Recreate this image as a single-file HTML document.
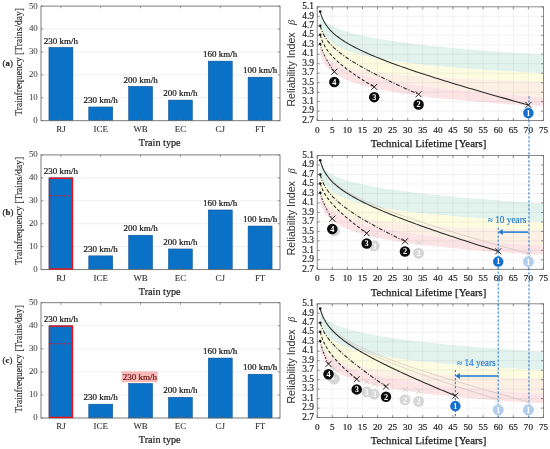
<!DOCTYPE html><html><head><meta charset="utf-8"><style>html,body{margin:0;padding:0;background:#fff;overflow:hidden}svg{display:block;-webkit-font-smoothing:antialiased;will-change:transform}</style></head><body><svg width="550" height="449" viewBox="0 0 550 449" font-family='"Liberation Serif", serif'><line x1="41.0" y1="97.78" x2="280.0" y2="97.78" stroke="#e8e8e8" stroke-width="0.7"/>
<line x1="41.0" y1="74.86" x2="280.0" y2="74.86" stroke="#e8e8e8" stroke-width="0.7"/>
<line x1="41.0" y1="51.94" x2="280.0" y2="51.94" stroke="#e8e8e8" stroke-width="0.7"/>
<line x1="41.0" y1="29.02" x2="280.0" y2="29.02" stroke="#e8e8e8" stroke-width="0.7"/>
<rect x="48.92" y="47.36" width="24.0" height="73.34" fill="#0a72c6" stroke="#0b4f8f" stroke-width="0.5"/>
<rect x="88.75" y="106.95" width="24.0" height="13.75" fill="#0a72c6" stroke="#0b4f8f" stroke-width="0.5"/>
<rect x="128.58" y="86.32" width="24.0" height="34.38" fill="#0a72c6" stroke="#0b4f8f" stroke-width="0.5"/>
<rect x="168.42" y="100.07" width="24.0" height="20.63" fill="#0a72c6" stroke="#0b4f8f" stroke-width="0.5"/>
<rect x="208.25" y="61.11" width="24.0" height="59.59" fill="#0a72c6" stroke="#0b4f8f" stroke-width="0.5"/>
<rect x="248.08" y="77.15" width="24.0" height="43.55" fill="#0a72c6" stroke="#0b4f8f" stroke-width="0.5"/>
<rect x="41.0" y="6.1" width="239.0" height="114.60" fill="none" stroke="#6e6e6e" stroke-width="0.9"/>
<line x1="41.0" y1="120.70" x2="43.2" y2="120.70" stroke="#6e6e6e" stroke-width="0.7"/>
<line x1="280.0" y1="120.70" x2="277.8" y2="120.70" stroke="#6e6e6e" stroke-width="0.7"/>
<text x="37.80" y="123.10" font-size="8.9" text-anchor="end" fill="#3c3c3c" stroke="#3c3c3c" stroke-width="0.04" >0</text>
<line x1="41.0" y1="97.78" x2="43.2" y2="97.78" stroke="#6e6e6e" stroke-width="0.7"/>
<line x1="280.0" y1="97.78" x2="277.8" y2="97.78" stroke="#6e6e6e" stroke-width="0.7"/>
<text x="37.80" y="100.18" font-size="8.9" text-anchor="end" fill="#3c3c3c" stroke="#3c3c3c" stroke-width="0.04" >10</text>
<line x1="41.0" y1="74.86" x2="43.2" y2="74.86" stroke="#6e6e6e" stroke-width="0.7"/>
<line x1="280.0" y1="74.86" x2="277.8" y2="74.86" stroke="#6e6e6e" stroke-width="0.7"/>
<text x="37.80" y="77.26" font-size="8.9" text-anchor="end" fill="#3c3c3c" stroke="#3c3c3c" stroke-width="0.04" >20</text>
<line x1="41.0" y1="51.94" x2="43.2" y2="51.94" stroke="#6e6e6e" stroke-width="0.7"/>
<line x1="280.0" y1="51.94" x2="277.8" y2="51.94" stroke="#6e6e6e" stroke-width="0.7"/>
<text x="37.80" y="54.34" font-size="8.9" text-anchor="end" fill="#3c3c3c" stroke="#3c3c3c" stroke-width="0.04" >30</text>
<line x1="41.0" y1="29.02" x2="43.2" y2="29.02" stroke="#6e6e6e" stroke-width="0.7"/>
<line x1="280.0" y1="29.02" x2="277.8" y2="29.02" stroke="#6e6e6e" stroke-width="0.7"/>
<text x="37.80" y="31.42" font-size="8.9" text-anchor="end" fill="#3c3c3c" stroke="#3c3c3c" stroke-width="0.04" >40</text>
<line x1="41.0" y1="6.10" x2="43.2" y2="6.10" stroke="#6e6e6e" stroke-width="0.7"/>
<line x1="280.0" y1="6.10" x2="277.8" y2="6.10" stroke="#6e6e6e" stroke-width="0.7"/>
<text x="37.80" y="8.50" font-size="8.9" text-anchor="end" fill="#3c3c3c" stroke="#3c3c3c" stroke-width="0.04" >50</text>
<line x1="60.92" y1="120.7" x2="60.92" y2="118.5" stroke="#6e6e6e" stroke-width="0.7"/>
<line x1="60.92" y1="6.1" x2="60.92" y2="8.3" stroke="#6e6e6e" stroke-width="0.7"/>
<text x="60.92" y="131.90" font-size="8.9" text-anchor="middle" fill="#2e2e2e" stroke="#2e2e2e" stroke-width="0.08" >RJ</text>
<line x1="100.75" y1="120.7" x2="100.75" y2="118.5" stroke="#6e6e6e" stroke-width="0.7"/>
<line x1="100.75" y1="6.1" x2="100.75" y2="8.3" stroke="#6e6e6e" stroke-width="0.7"/>
<text x="100.75" y="131.90" font-size="8.9" text-anchor="middle" fill="#2e2e2e" stroke="#2e2e2e" stroke-width="0.08" >ICE</text>
<line x1="140.58" y1="120.7" x2="140.58" y2="118.5" stroke="#6e6e6e" stroke-width="0.7"/>
<line x1="140.58" y1="6.1" x2="140.58" y2="8.3" stroke="#6e6e6e" stroke-width="0.7"/>
<text x="140.58" y="131.90" font-size="8.9" text-anchor="middle" fill="#2e2e2e" stroke="#2e2e2e" stroke-width="0.08" >WB</text>
<line x1="180.42" y1="120.7" x2="180.42" y2="118.5" stroke="#6e6e6e" stroke-width="0.7"/>
<line x1="180.42" y1="6.1" x2="180.42" y2="8.3" stroke="#6e6e6e" stroke-width="0.7"/>
<text x="180.42" y="131.90" font-size="8.9" text-anchor="middle" fill="#2e2e2e" stroke="#2e2e2e" stroke-width="0.08" >EC</text>
<line x1="220.25" y1="120.7" x2="220.25" y2="118.5" stroke="#6e6e6e" stroke-width="0.7"/>
<line x1="220.25" y1="6.1" x2="220.25" y2="8.3" stroke="#6e6e6e" stroke-width="0.7"/>
<text x="220.25" y="131.90" font-size="8.9" text-anchor="middle" fill="#2e2e2e" stroke="#2e2e2e" stroke-width="0.08" >CJ</text>
<line x1="260.08" y1="120.7" x2="260.08" y2="118.5" stroke="#6e6e6e" stroke-width="0.7"/>
<line x1="260.08" y1="6.1" x2="260.08" y2="8.3" stroke="#6e6e6e" stroke-width="0.7"/>
<text x="260.08" y="131.90" font-size="8.9" text-anchor="middle" fill="#2e2e2e" stroke="#2e2e2e" stroke-width="0.08" >FT</text>
<text x="60.92" y="43.56" font-size="9.0" text-anchor="middle" fill="#141414" stroke="#141414" stroke-width="0.2" >230 km/h</text>
<text x="100.75" y="103.15" font-size="9.0" text-anchor="middle" fill="#141414" stroke="#141414" stroke-width="0.2" >230 km/h</text>
<text x="140.58" y="82.52" font-size="9.0" text-anchor="middle" fill="#141414" stroke="#141414" stroke-width="0.2" >200 km/h</text>
<text x="180.42" y="96.27" font-size="9.0" text-anchor="middle" fill="#141414" stroke="#141414" stroke-width="0.2" >200 km/h</text>
<text x="220.25" y="57.31" font-size="9.0" text-anchor="middle" fill="#141414" stroke="#141414" stroke-width="0.2" >160 km/h</text>
<text x="260.08" y="73.35" font-size="9.0" text-anchor="middle" fill="#141414" stroke="#141414" stroke-width="0.2" >100 km/h</text>
<text x="159.70" y="145.60" font-size="10.2" text-anchor="middle" fill="#1e1e1e" stroke="#1e1e1e" stroke-width="0.22" >Train type</text>
<text transform="translate(22.4,61.90) rotate(-90)" font-size="9.55" text-anchor="middle" fill="#262626" stroke="#262626" stroke-width="0.1">Trainfrequency [Trains/day]</text>
<text x="2.6" y="66.00" font-size="8.8" fill="#262626" stroke="#262626" stroke-width="0.22">(<tspan font-weight="bold">a</tspan>)</text>
<line x1="41.0" y1="246.66" x2="280.0" y2="246.66" stroke="#e8e8e8" stroke-width="0.7"/>
<line x1="41.0" y1="223.72" x2="280.0" y2="223.72" stroke="#e8e8e8" stroke-width="0.7"/>
<line x1="41.0" y1="200.78" x2="280.0" y2="200.78" stroke="#e8e8e8" stroke-width="0.7"/>
<line x1="41.0" y1="177.84" x2="280.0" y2="177.84" stroke="#e8e8e8" stroke-width="0.7"/>
<rect x="48.92" y="177.84" width="24.0" height="91.76" fill="#0a72c6" stroke="#0b4f8f" stroke-width="0.5"/>
<rect x="88.75" y="255.84" width="24.0" height="13.76" fill="#0a72c6" stroke="#0b4f8f" stroke-width="0.5"/>
<rect x="128.58" y="235.19" width="24.0" height="34.41" fill="#0a72c6" stroke="#0b4f8f" stroke-width="0.5"/>
<rect x="168.42" y="248.95" width="24.0" height="20.65" fill="#0a72c6" stroke="#0b4f8f" stroke-width="0.5"/>
<rect x="208.25" y="209.96" width="24.0" height="59.64" fill="#0a72c6" stroke="#0b4f8f" stroke-width="0.5"/>
<rect x="248.08" y="226.01" width="24.0" height="43.59" fill="#0a72c6" stroke="#0b4f8f" stroke-width="0.5"/>
<rect x="41.0" y="154.9" width="239.0" height="114.70" fill="none" stroke="#6e6e6e" stroke-width="0.9"/>
<line x1="41.0" y1="269.60" x2="43.2" y2="269.60" stroke="#6e6e6e" stroke-width="0.7"/>
<line x1="280.0" y1="269.60" x2="277.8" y2="269.60" stroke="#6e6e6e" stroke-width="0.7"/>
<text x="37.80" y="272.00" font-size="8.9" text-anchor="end" fill="#3c3c3c" stroke="#3c3c3c" stroke-width="0.04" >0</text>
<line x1="41.0" y1="246.66" x2="43.2" y2="246.66" stroke="#6e6e6e" stroke-width="0.7"/>
<line x1="280.0" y1="246.66" x2="277.8" y2="246.66" stroke="#6e6e6e" stroke-width="0.7"/>
<text x="37.80" y="249.06" font-size="8.9" text-anchor="end" fill="#3c3c3c" stroke="#3c3c3c" stroke-width="0.04" >10</text>
<line x1="41.0" y1="223.72" x2="43.2" y2="223.72" stroke="#6e6e6e" stroke-width="0.7"/>
<line x1="280.0" y1="223.72" x2="277.8" y2="223.72" stroke="#6e6e6e" stroke-width="0.7"/>
<text x="37.80" y="226.12" font-size="8.9" text-anchor="end" fill="#3c3c3c" stroke="#3c3c3c" stroke-width="0.04" >20</text>
<line x1="41.0" y1="200.78" x2="43.2" y2="200.78" stroke="#6e6e6e" stroke-width="0.7"/>
<line x1="280.0" y1="200.78" x2="277.8" y2="200.78" stroke="#6e6e6e" stroke-width="0.7"/>
<text x="37.80" y="203.18" font-size="8.9" text-anchor="end" fill="#3c3c3c" stroke="#3c3c3c" stroke-width="0.04" >30</text>
<line x1="41.0" y1="177.84" x2="43.2" y2="177.84" stroke="#6e6e6e" stroke-width="0.7"/>
<line x1="280.0" y1="177.84" x2="277.8" y2="177.84" stroke="#6e6e6e" stroke-width="0.7"/>
<text x="37.80" y="180.24" font-size="8.9" text-anchor="end" fill="#3c3c3c" stroke="#3c3c3c" stroke-width="0.04" >40</text>
<line x1="41.0" y1="154.90" x2="43.2" y2="154.90" stroke="#6e6e6e" stroke-width="0.7"/>
<line x1="280.0" y1="154.90" x2="277.8" y2="154.90" stroke="#6e6e6e" stroke-width="0.7"/>
<text x="37.80" y="157.30" font-size="8.9" text-anchor="end" fill="#3c3c3c" stroke="#3c3c3c" stroke-width="0.04" >50</text>
<line x1="60.92" y1="269.6" x2="60.92" y2="267.40000000000003" stroke="#6e6e6e" stroke-width="0.7"/>
<line x1="60.92" y1="154.9" x2="60.92" y2="157.1" stroke="#6e6e6e" stroke-width="0.7"/>
<text x="60.92" y="280.80" font-size="8.9" text-anchor="middle" fill="#2e2e2e" stroke="#2e2e2e" stroke-width="0.08" >RJ</text>
<line x1="100.75" y1="269.6" x2="100.75" y2="267.40000000000003" stroke="#6e6e6e" stroke-width="0.7"/>
<line x1="100.75" y1="154.9" x2="100.75" y2="157.1" stroke="#6e6e6e" stroke-width="0.7"/>
<text x="100.75" y="280.80" font-size="8.9" text-anchor="middle" fill="#2e2e2e" stroke="#2e2e2e" stroke-width="0.08" >ICE</text>
<line x1="140.58" y1="269.6" x2="140.58" y2="267.40000000000003" stroke="#6e6e6e" stroke-width="0.7"/>
<line x1="140.58" y1="154.9" x2="140.58" y2="157.1" stroke="#6e6e6e" stroke-width="0.7"/>
<text x="140.58" y="280.80" font-size="8.9" text-anchor="middle" fill="#2e2e2e" stroke="#2e2e2e" stroke-width="0.08" >WB</text>
<line x1="180.42" y1="269.6" x2="180.42" y2="267.40000000000003" stroke="#6e6e6e" stroke-width="0.7"/>
<line x1="180.42" y1="154.9" x2="180.42" y2="157.1" stroke="#6e6e6e" stroke-width="0.7"/>
<text x="180.42" y="280.80" font-size="8.9" text-anchor="middle" fill="#2e2e2e" stroke="#2e2e2e" stroke-width="0.08" >EC</text>
<line x1="220.25" y1="269.6" x2="220.25" y2="267.40000000000003" stroke="#6e6e6e" stroke-width="0.7"/>
<line x1="220.25" y1="154.9" x2="220.25" y2="157.1" stroke="#6e6e6e" stroke-width="0.7"/>
<text x="220.25" y="280.80" font-size="8.9" text-anchor="middle" fill="#2e2e2e" stroke="#2e2e2e" stroke-width="0.08" >CJ</text>
<line x1="260.08" y1="269.6" x2="260.08" y2="267.40000000000003" stroke="#6e6e6e" stroke-width="0.7"/>
<line x1="260.08" y1="154.9" x2="260.08" y2="157.1" stroke="#6e6e6e" stroke-width="0.7"/>
<text x="260.08" y="280.80" font-size="8.9" text-anchor="middle" fill="#2e2e2e" stroke="#2e2e2e" stroke-width="0.08" >FT</text>
<rect x="49.52" y="178.24" width="22.8" height="90.76" fill="none" stroke="#ff0a0a" stroke-width="1.25"/>
<line x1="50.12" y1="195.73" x2="71.92" y2="195.73" stroke="#f51010" stroke-width="1.1" stroke-dasharray="2.1,2.3"/>
<text x="60.92" y="174.04" font-size="9.0" text-anchor="middle" fill="#141414" stroke="#141414" stroke-width="0.2" >230 km/h</text>
<text x="100.75" y="252.04" font-size="9.0" text-anchor="middle" fill="#141414" stroke="#141414" stroke-width="0.2" >230 km/h</text>
<text x="140.58" y="231.39" font-size="9.0" text-anchor="middle" fill="#141414" stroke="#141414" stroke-width="0.2" >200 km/h</text>
<text x="180.42" y="245.15" font-size="9.0" text-anchor="middle" fill="#141414" stroke="#141414" stroke-width="0.2" >200 km/h</text>
<text x="220.25" y="206.16" font-size="9.0" text-anchor="middle" fill="#141414" stroke="#141414" stroke-width="0.2" >160 km/h</text>
<text x="260.08" y="222.21" font-size="9.0" text-anchor="middle" fill="#141414" stroke="#141414" stroke-width="0.2" >100 km/h</text>
<text x="159.70" y="294.50" font-size="10.2" text-anchor="middle" fill="#1e1e1e" stroke="#1e1e1e" stroke-width="0.22" >Train type</text>
<text transform="translate(22.4,210.75) rotate(-90)" font-size="9.55" text-anchor="middle" fill="#262626" stroke="#262626" stroke-width="0.1">Trainfrequency [Trains/day]</text>
<text x="2.6" y="214.85" font-size="8.8" fill="#262626" stroke="#262626" stroke-width="0.22">(<tspan font-weight="bold">b</tspan>)</text>
<line x1="41.0" y1="394.94" x2="280.0" y2="394.94" stroke="#e8e8e8" stroke-width="0.7"/>
<line x1="41.0" y1="371.88" x2="280.0" y2="371.88" stroke="#e8e8e8" stroke-width="0.7"/>
<line x1="41.0" y1="348.82" x2="280.0" y2="348.82" stroke="#e8e8e8" stroke-width="0.7"/>
<line x1="41.0" y1="325.76" x2="280.0" y2="325.76" stroke="#e8e8e8" stroke-width="0.7"/>
<rect x="48.92" y="325.76" width="24.0" height="92.24" fill="#0a72c6" stroke="#0b4f8f" stroke-width="0.5"/>
<rect x="88.75" y="404.16" width="24.0" height="13.84" fill="#0a72c6" stroke="#0b4f8f" stroke-width="0.5"/>
<rect x="128.58" y="383.41" width="24.0" height="34.59" fill="#0a72c6" stroke="#0b4f8f" stroke-width="0.5"/>
<rect x="168.42" y="397.25" width="24.0" height="20.75" fill="#0a72c6" stroke="#0b4f8f" stroke-width="0.5"/>
<rect x="208.25" y="358.04" width="24.0" height="59.96" fill="#0a72c6" stroke="#0b4f8f" stroke-width="0.5"/>
<rect x="248.08" y="374.19" width="24.0" height="43.81" fill="#0a72c6" stroke="#0b4f8f" stroke-width="0.5"/>
<rect x="41.0" y="302.7" width="239.0" height="115.30" fill="none" stroke="#6e6e6e" stroke-width="0.9"/>
<line x1="41.0" y1="418.00" x2="43.2" y2="418.00" stroke="#6e6e6e" stroke-width="0.7"/>
<line x1="280.0" y1="418.00" x2="277.8" y2="418.00" stroke="#6e6e6e" stroke-width="0.7"/>
<text x="37.80" y="420.40" font-size="8.9" text-anchor="end" fill="#3c3c3c" stroke="#3c3c3c" stroke-width="0.04" >0</text>
<line x1="41.0" y1="394.94" x2="43.2" y2="394.94" stroke="#6e6e6e" stroke-width="0.7"/>
<line x1="280.0" y1="394.94" x2="277.8" y2="394.94" stroke="#6e6e6e" stroke-width="0.7"/>
<text x="37.80" y="397.34" font-size="8.9" text-anchor="end" fill="#3c3c3c" stroke="#3c3c3c" stroke-width="0.04" >10</text>
<line x1="41.0" y1="371.88" x2="43.2" y2="371.88" stroke="#6e6e6e" stroke-width="0.7"/>
<line x1="280.0" y1="371.88" x2="277.8" y2="371.88" stroke="#6e6e6e" stroke-width="0.7"/>
<text x="37.80" y="374.28" font-size="8.9" text-anchor="end" fill="#3c3c3c" stroke="#3c3c3c" stroke-width="0.04" >20</text>
<line x1="41.0" y1="348.82" x2="43.2" y2="348.82" stroke="#6e6e6e" stroke-width="0.7"/>
<line x1="280.0" y1="348.82" x2="277.8" y2="348.82" stroke="#6e6e6e" stroke-width="0.7"/>
<text x="37.80" y="351.22" font-size="8.9" text-anchor="end" fill="#3c3c3c" stroke="#3c3c3c" stroke-width="0.04" >30</text>
<line x1="41.0" y1="325.76" x2="43.2" y2="325.76" stroke="#6e6e6e" stroke-width="0.7"/>
<line x1="280.0" y1="325.76" x2="277.8" y2="325.76" stroke="#6e6e6e" stroke-width="0.7"/>
<text x="37.80" y="328.16" font-size="8.9" text-anchor="end" fill="#3c3c3c" stroke="#3c3c3c" stroke-width="0.04" >40</text>
<line x1="41.0" y1="302.70" x2="43.2" y2="302.70" stroke="#6e6e6e" stroke-width="0.7"/>
<line x1="280.0" y1="302.70" x2="277.8" y2="302.70" stroke="#6e6e6e" stroke-width="0.7"/>
<text x="37.80" y="305.10" font-size="8.9" text-anchor="end" fill="#3c3c3c" stroke="#3c3c3c" stroke-width="0.04" >50</text>
<line x1="60.92" y1="418.0" x2="60.92" y2="415.8" stroke="#6e6e6e" stroke-width="0.7"/>
<line x1="60.92" y1="302.7" x2="60.92" y2="304.9" stroke="#6e6e6e" stroke-width="0.7"/>
<text x="60.92" y="429.20" font-size="8.9" text-anchor="middle" fill="#2e2e2e" stroke="#2e2e2e" stroke-width="0.08" >RJ</text>
<line x1="100.75" y1="418.0" x2="100.75" y2="415.8" stroke="#6e6e6e" stroke-width="0.7"/>
<line x1="100.75" y1="302.7" x2="100.75" y2="304.9" stroke="#6e6e6e" stroke-width="0.7"/>
<text x="100.75" y="429.20" font-size="8.9" text-anchor="middle" fill="#2e2e2e" stroke="#2e2e2e" stroke-width="0.08" >ICE</text>
<line x1="140.58" y1="418.0" x2="140.58" y2="415.8" stroke="#6e6e6e" stroke-width="0.7"/>
<line x1="140.58" y1="302.7" x2="140.58" y2="304.9" stroke="#6e6e6e" stroke-width="0.7"/>
<text x="140.58" y="429.20" font-size="8.9" text-anchor="middle" fill="#2e2e2e" stroke="#2e2e2e" stroke-width="0.08" >WB</text>
<line x1="180.42" y1="418.0" x2="180.42" y2="415.8" stroke="#6e6e6e" stroke-width="0.7"/>
<line x1="180.42" y1="302.7" x2="180.42" y2="304.9" stroke="#6e6e6e" stroke-width="0.7"/>
<text x="180.42" y="429.20" font-size="8.9" text-anchor="middle" fill="#2e2e2e" stroke="#2e2e2e" stroke-width="0.08" >EC</text>
<line x1="220.25" y1="418.0" x2="220.25" y2="415.8" stroke="#6e6e6e" stroke-width="0.7"/>
<line x1="220.25" y1="302.7" x2="220.25" y2="304.9" stroke="#6e6e6e" stroke-width="0.7"/>
<text x="220.25" y="429.20" font-size="8.9" text-anchor="middle" fill="#2e2e2e" stroke="#2e2e2e" stroke-width="0.08" >CJ</text>
<line x1="260.08" y1="418.0" x2="260.08" y2="415.8" stroke="#6e6e6e" stroke-width="0.7"/>
<line x1="260.08" y1="302.7" x2="260.08" y2="304.9" stroke="#6e6e6e" stroke-width="0.7"/>
<text x="260.08" y="429.20" font-size="8.9" text-anchor="middle" fill="#2e2e2e" stroke="#2e2e2e" stroke-width="0.08" >FT</text>
<rect x="49.52" y="326.16" width="22.8" height="91.24" fill="none" stroke="#ff0a0a" stroke-width="1.25"/>
<line x1="50.12" y1="343.75" x2="71.92" y2="343.75" stroke="#f51010" stroke-width="1.1" stroke-dasharray="2.1,2.3"/>
<text x="60.92" y="321.96" font-size="9.0" text-anchor="middle" fill="#141414" stroke="#141414" stroke-width="0.2" >230 km/h</text>
<text x="100.75" y="400.36" font-size="9.0" text-anchor="middle" fill="#141414" stroke="#141414" stroke-width="0.2" >230 km/h</text>
<rect x="121.48" y="371.31" width="36.2" height="10.9" fill="#f8b9b9"/>
<text x="139.78" y="379.61" font-size="9.0" text-anchor="middle" fill="#6e1414" stroke="#6e1414" stroke-width="0.2" >230 km/h</text>
<text x="180.42" y="393.45" font-size="9.0" text-anchor="middle" fill="#141414" stroke="#141414" stroke-width="0.2" >200 km/h</text>
<text x="220.25" y="354.24" font-size="9.0" text-anchor="middle" fill="#141414" stroke="#141414" stroke-width="0.2" >160 km/h</text>
<text x="260.08" y="370.39" font-size="9.0" text-anchor="middle" fill="#141414" stroke="#141414" stroke-width="0.2" >100 km/h</text>
<text x="159.70" y="442.90" font-size="10.2" text-anchor="middle" fill="#1e1e1e" stroke="#1e1e1e" stroke-width="0.22" >Train type</text>
<text transform="translate(22.4,358.85) rotate(-90)" font-size="9.55" text-anchor="middle" fill="#262626" stroke="#262626" stroke-width="0.1">Trainfrequency [Trains/day]</text>
<text x="2.6" y="362.95" font-size="8.8" fill="#262626" stroke="#262626" stroke-width="0.22">(<tspan font-weight="bold">c</tspan>)</text>
<clipPath id="clipR0"><rect x="317.2" y="6.84" width="226.28" height="113.76"/></clipPath>
<path d="M320.22,17.05 L320.33,17.19 L320.44,17.33 L320.56,17.47 L320.68,17.62 L320.81,17.76 L320.94,17.91 L321.08,18.07 L321.22,18.22 L321.37,18.38 L321.52,18.55 L321.68,18.71 L321.85,18.88 L322.02,19.05 L322.19,19.23 L322.38,19.40 L322.57,19.59 L322.76,19.77 L322.97,19.96 L323.18,20.15 L323.40,20.34 L323.62,20.53 L323.86,20.73 L324.10,20.93 L324.35,21.14 L324.62,21.35 L324.89,21.56 L325.17,21.77 L325.46,21.99 L325.76,22.21 L326.08,22.43 L326.40,22.65 L326.74,22.88 L327.09,23.11 L327.45,23.35 L327.83,23.59 L328.22,23.83 L328.62,24.07 L329.04,24.32 L329.47,24.57 L329.92,24.82 L330.39,25.07 L330.87,25.33 L331.37,25.59 L331.89,25.86 L332.43,26.13 L332.99,26.40 L333.57,26.67 L334.17,26.95 L334.79,27.23 L335.43,27.51 L336.10,27.79 L336.79,28.08 L337.51,28.37 L338.25,28.67 L339.03,28.97 L339.83,29.27 L340.65,29.57 L341.51,29.88 L342.40,30.19 L343.33,30.50 L344.29,30.81 L345.28,31.13 L346.31,31.45 L347.37,31.78 L348.48,32.10 L349.62,32.43 L350.81,32.77 L352.04,33.10 L353.32,33.44 L354.64,33.79 L356.01,34.13 L357.44,34.48 L358.91,34.83 L360.44,35.19 L362.02,35.54 L363.66,35.90 L365.37,36.27 L367.13,36.63 L368.96,37.00 L370.86,37.37 L372.82,37.75 L374.86,38.13 L376.97,38.51 L379.16,38.89 L381.43,39.28 L383.78,39.67 L386.22,40.06 L388.75,40.46 L391.37,40.86 L394.09,41.26 L396.91,41.67 L399.83,42.07 L402.85,42.49 L405.99,42.90 L409.24,43.32 L412.62,43.74 L416.11,44.16 L419.74,44.59 L423.49,45.02 L427.39,45.45 L431.42,45.88 L435.61,46.32 L439.94,46.76 L444.44,47.21 L449.10,47.65 L453.93,48.10 L458.94,48.56 L464.14,49.01 L469.52,49.47 L475.10,49.93 L480.88,50.40 L486.88,50.87 L493.10,51.34 L499.54,51.81 L506.22,52.29 L513.15,52.77 L520.32,53.25 L527.76,53.74 L535.48,54.23 L543.48,54.72 L543.48,73.18 L535.48,72.78 L527.76,72.38 L520.32,71.98 L513.15,71.58 L506.22,71.18 L499.54,70.78 L493.10,70.38 L486.88,69.98 L480.88,69.57 L475.10,69.17 L469.52,68.77 L464.14,68.37 L458.94,67.97 L453.93,67.57 L449.10,67.17 L444.44,66.77 L439.94,66.37 L435.61,65.97 L431.42,65.57 L427.39,65.17 L423.49,64.77 L419.74,64.36 L416.11,63.96 L412.62,63.56 L409.24,63.16 L405.99,62.76 L402.85,62.36 L399.83,61.96 L396.91,61.56 L394.09,61.16 L391.37,60.76 L388.75,60.36 L386.22,59.96 L383.78,59.56 L381.43,59.15 L379.16,58.75 L376.97,58.35 L374.86,57.95 L372.82,57.55 L370.86,57.15 L368.96,56.75 L367.13,56.35 L365.37,55.95 L363.66,55.55 L362.02,55.15 L360.44,54.75 L358.91,54.35 L357.44,53.94 L356.01,53.54 L354.64,53.14 L353.32,52.74 L352.04,52.34 L350.81,51.94 L349.62,51.54 L348.48,51.14 L347.37,50.74 L346.31,50.34 L345.28,49.94 L344.29,49.54 L343.33,49.14 L342.40,48.73 L341.51,48.33 L340.65,47.93 L339.83,47.53 L339.03,47.13 L338.25,46.73 L337.51,46.33 L336.79,45.93 L336.10,45.53 L335.43,45.13 L334.79,44.73 L334.17,44.33 L333.57,43.93 L332.99,43.52 L332.43,43.12 L331.89,42.72 L331.37,42.32 L330.87,41.92 L330.39,41.52 L329.92,41.12 L329.47,40.72 L329.04,40.32 L328.62,39.92 L328.22,39.52 L327.83,39.12 L327.45,38.72 L327.09,38.31 L326.74,37.91 L326.40,37.51 L326.08,37.11 L325.76,36.71 L325.46,36.31 L325.17,35.91 L324.89,35.51 L324.62,35.11 L324.35,34.71 L324.10,34.31 L323.86,33.91 L323.62,33.51 L323.40,33.10 L323.18,32.70 L322.97,32.30 L322.76,31.90 L322.57,31.50 L322.38,31.10 L322.19,30.70 L322.02,30.30 L321.85,29.90 L321.68,29.50 L321.52,29.10 L321.37,28.70 L321.22,28.30 L321.08,27.89 L320.94,27.49 L320.81,27.09 L320.68,26.69 L320.56,26.29 L320.44,25.89 L320.33,25.49 L320.22,25.09 Z" fill="#e2f2ec" stroke="none" clip-path="url(#clipR0)"/>
<path d="M320.22,25.09 L320.33,25.49 L320.44,25.89 L320.56,26.29 L320.68,26.69 L320.81,27.09 L320.94,27.49 L321.08,27.89 L321.22,28.30 L321.37,28.70 L321.52,29.10 L321.68,29.50 L321.85,29.90 L322.02,30.30 L322.19,30.70 L322.38,31.10 L322.57,31.50 L322.76,31.90 L322.97,32.30 L323.18,32.70 L323.40,33.10 L323.62,33.51 L323.86,33.91 L324.10,34.31 L324.35,34.71 L324.62,35.11 L324.89,35.51 L325.17,35.91 L325.46,36.31 L325.76,36.71 L326.08,37.11 L326.40,37.51 L326.74,37.91 L327.09,38.31 L327.45,38.72 L327.83,39.12 L328.22,39.52 L328.62,39.92 L329.04,40.32 L329.47,40.72 L329.92,41.12 L330.39,41.52 L330.87,41.92 L331.37,42.32 L331.89,42.72 L332.43,43.12 L332.99,43.52 L333.57,43.93 L334.17,44.33 L334.79,44.73 L335.43,45.13 L336.10,45.53 L336.79,45.93 L337.51,46.33 L338.25,46.73 L339.03,47.13 L339.83,47.53 L340.65,47.93 L341.51,48.33 L342.40,48.73 L343.33,49.14 L344.29,49.54 L345.28,49.94 L346.31,50.34 L347.37,50.74 L348.48,51.14 L349.62,51.54 L350.81,51.94 L352.04,52.34 L353.32,52.74 L354.64,53.14 L356.01,53.54 L357.44,53.94 L358.91,54.35 L360.44,54.75 L362.02,55.15 L363.66,55.55 L365.37,55.95 L367.13,56.35 L368.96,56.75 L370.86,57.15 L372.82,57.55 L374.86,57.95 L376.97,58.35 L379.16,58.75 L381.43,59.15 L383.78,59.56 L386.22,59.96 L388.75,60.36 L391.37,60.76 L394.09,61.16 L396.91,61.56 L399.83,61.96 L402.85,62.36 L405.99,62.76 L409.24,63.16 L412.62,63.56 L416.11,63.96 L419.74,64.36 L423.49,64.77 L427.39,65.17 L431.42,65.57 L435.61,65.97 L439.94,66.37 L444.44,66.77 L449.10,67.17 L453.93,67.57 L458.94,67.97 L464.14,68.37 L469.52,68.77 L475.10,69.17 L480.88,69.57 L486.88,69.98 L493.10,70.38 L499.54,70.78 L506.22,71.18 L513.15,71.58 L520.32,71.98 L527.76,72.38 L535.48,72.78 L543.48,73.18 L543.48,81.54 L535.48,81.31 L527.76,81.08 L520.32,80.85 L513.15,80.61 L506.22,80.38 L499.54,80.14 L493.10,79.91 L486.88,79.67 L480.88,79.42 L475.10,79.18 L469.52,78.94 L464.14,78.69 L458.94,78.44 L453.93,78.19 L449.10,77.94 L444.44,77.69 L439.94,77.43 L435.61,77.18 L431.42,76.92 L427.39,76.66 L423.49,76.40 L419.74,76.14 L416.11,75.87 L412.62,75.60 L409.24,75.34 L405.99,75.07 L402.85,74.80 L399.83,74.52 L396.91,74.25 L394.09,73.97 L391.37,73.70 L388.75,73.42 L386.22,73.14 L383.78,72.85 L381.43,72.57 L379.16,72.28 L376.97,72.00 L374.86,71.71 L372.82,71.42 L370.86,71.12 L368.96,70.83 L367.13,70.53 L365.37,70.24 L363.66,69.94 L362.02,69.64 L360.44,69.33 L358.91,69.03 L357.44,68.72 L356.01,68.42 L354.64,68.11 L353.32,67.80 L352.04,67.49 L350.81,67.17 L349.62,66.86 L348.48,66.54 L347.37,66.22 L346.31,65.90 L345.28,65.58 L344.29,65.25 L343.33,64.93 L342.40,64.60 L341.51,64.27 L340.65,63.94 L339.83,63.61 L339.03,63.28 L338.25,62.94 L337.51,62.61 L336.79,62.27 L336.10,61.93 L335.43,61.58 L334.79,61.24 L334.17,60.90 L333.57,60.55 L332.99,60.20 L332.43,59.85 L331.89,59.50 L331.37,59.15 L330.87,58.79 L330.39,58.43 L329.92,58.08 L329.47,57.72 L329.04,57.36 L328.62,56.99 L328.22,56.63 L327.83,56.26 L327.45,55.89 L327.09,55.52 L326.74,55.15 L326.40,54.78 L326.08,54.40 L325.76,54.03 L325.46,53.65 L325.17,53.27 L324.89,52.89 L324.62,52.51 L324.35,52.12 L324.10,51.74 L323.86,51.35 L323.62,50.96 L323.40,50.57 L323.18,50.17 L322.97,49.78 L322.76,49.38 L322.57,48.99 L322.38,48.59 L322.19,48.19 L322.02,47.78 L321.85,47.38 L321.68,46.97 L321.52,46.57 L321.37,46.16 L321.22,45.75 L321.08,45.33 L320.94,44.92 L320.81,44.50 L320.68,44.09 L320.56,43.67 L320.44,43.25 L320.33,42.82 L320.22,42.40 Z" fill="#fdfbe0" stroke="none" clip-path="url(#clipR0)"/>
<path d="M320.22,42.40 L320.33,42.82 L320.44,43.25 L320.56,43.67 L320.68,44.09 L320.81,44.50 L320.94,44.92 L321.08,45.33 L321.22,45.75 L321.37,46.16 L321.52,46.57 L321.68,46.97 L321.85,47.38 L322.02,47.78 L322.19,48.19 L322.38,48.59 L322.57,48.99 L322.76,49.38 L322.97,49.78 L323.18,50.17 L323.40,50.57 L323.62,50.96 L323.86,51.35 L324.10,51.74 L324.35,52.12 L324.62,52.51 L324.89,52.89 L325.17,53.27 L325.46,53.65 L325.76,54.03 L326.08,54.40 L326.40,54.78 L326.74,55.15 L327.09,55.52 L327.45,55.89 L327.83,56.26 L328.22,56.63 L328.62,56.99 L329.04,57.36 L329.47,57.72 L329.92,58.08 L330.39,58.43 L330.87,58.79 L331.37,59.15 L331.89,59.50 L332.43,59.85 L332.99,60.20 L333.57,60.55 L334.17,60.90 L334.79,61.24 L335.43,61.58 L336.10,61.93 L336.79,62.27 L337.51,62.61 L338.25,62.94 L339.03,63.28 L339.83,63.61 L340.65,63.94 L341.51,64.27 L342.40,64.60 L343.33,64.93 L344.29,65.25 L345.28,65.58 L346.31,65.90 L347.37,66.22 L348.48,66.54 L349.62,66.86 L350.81,67.17 L352.04,67.49 L353.32,67.80 L354.64,68.11 L356.01,68.42 L357.44,68.72 L358.91,69.03 L360.44,69.33 L362.02,69.64 L363.66,69.94 L365.37,70.24 L367.13,70.53 L368.96,70.83 L370.86,71.12 L372.82,71.42 L374.86,71.71 L376.97,72.00 L379.16,72.28 L381.43,72.57 L383.78,72.85 L386.22,73.14 L388.75,73.42 L391.37,73.70 L394.09,73.97 L396.91,74.25 L399.83,74.52 L402.85,74.80 L405.99,75.07 L409.24,75.34 L412.62,75.60 L416.11,75.87 L419.74,76.14 L423.49,76.40 L427.39,76.66 L431.42,76.92 L435.61,77.18 L439.94,77.43 L444.44,77.69 L449.10,77.94 L453.93,78.19 L458.94,78.44 L464.14,78.69 L469.52,78.94 L475.10,79.18 L480.88,79.42 L486.88,79.67 L493.10,79.91 L499.54,80.14 L506.22,80.38 L513.15,80.61 L520.32,80.85 L527.76,81.08 L535.48,81.31 L543.48,81.54 L543.48,97.14 L535.48,96.60 L527.76,96.07 L520.32,95.53 L513.15,95.00 L506.22,94.47 L499.54,93.94 L493.10,93.42 L486.88,92.89 L480.88,92.37 L475.10,91.85 L469.52,91.33 L464.14,90.82 L458.94,90.30 L453.93,89.79 L449.10,89.28 L444.44,88.77 L439.94,88.27 L435.61,87.76 L431.42,87.26 L427.39,86.76 L423.49,86.26 L419.74,85.77 L416.11,85.27 L412.62,84.78 L409.24,84.29 L405.99,83.80 L402.85,83.31 L399.83,82.83 L396.91,82.35 L394.09,81.87 L391.37,81.39 L388.75,80.91 L386.22,80.44 L383.78,79.96 L381.43,79.49 L379.16,79.03 L376.97,78.56 L374.86,78.09 L372.82,77.63 L370.86,77.17 L368.96,76.71 L367.13,76.25 L365.37,75.80 L363.66,75.35 L362.02,74.89 L360.44,74.45 L358.91,74.00 L357.44,73.55 L356.01,73.11 L354.64,72.67 L353.32,72.23 L352.04,71.79 L350.81,71.36 L349.62,70.92 L348.48,70.49 L347.37,70.06 L346.31,69.63 L345.28,69.21 L344.29,68.78 L343.33,68.36 L342.40,67.94 L341.51,67.53 L340.65,67.11 L339.83,66.70 L339.03,66.28 L338.25,65.87 L337.51,65.47 L336.79,65.06 L336.10,64.66 L335.43,64.25 L334.79,63.85 L334.17,63.46 L333.57,63.06 L332.99,62.67 L332.43,62.27 L331.89,61.88 L331.37,61.50 L330.87,61.11 L330.39,60.72 L329.92,60.34 L329.47,59.96 L329.04,59.58 L328.62,59.21 L328.22,58.83 L327.83,58.46 L327.45,58.09 L327.09,57.72 L326.74,57.35 L326.40,56.99 L326.08,56.63 L325.76,56.27 L325.46,55.91 L325.17,55.55 L324.89,55.19 L324.62,54.84 L324.35,54.49 L324.10,54.14 L323.86,53.79 L323.62,53.45 L323.40,53.11 L323.18,52.77 L322.97,52.43 L322.76,52.09 L322.57,51.75 L322.38,51.42 L322.19,51.09 L322.02,50.76 L321.85,50.43 L321.68,50.11 L321.52,49.78 L321.37,49.46 L321.22,49.14 L321.08,48.82 L320.94,48.51 L320.81,48.19 L320.68,47.88 L320.56,47.57 L320.44,47.27 L320.33,46.96 L320.22,46.66 Z" fill="#fcf0e4" stroke="none" clip-path="url(#clipR0)"/>
<path d="M320.22,46.66 L320.33,46.96 L320.44,47.27 L320.56,47.57 L320.68,47.88 L320.81,48.19 L320.94,48.51 L321.08,48.82 L321.22,49.14 L321.37,49.46 L321.52,49.78 L321.68,50.11 L321.85,50.43 L322.02,50.76 L322.19,51.09 L322.38,51.42 L322.57,51.75 L322.76,52.09 L322.97,52.43 L323.18,52.77 L323.40,53.11 L323.62,53.45 L323.86,53.79 L324.10,54.14 L324.35,54.49 L324.62,54.84 L324.89,55.19 L325.17,55.55 L325.46,55.91 L325.76,56.27 L326.08,56.63 L326.40,56.99 L326.74,57.35 L327.09,57.72 L327.45,58.09 L327.83,58.46 L328.22,58.83 L328.62,59.21 L329.04,59.58 L329.47,59.96 L329.92,60.34 L330.39,60.72 L330.87,61.11 L331.37,61.50 L331.89,61.88 L332.43,62.27 L332.99,62.67 L333.57,63.06 L334.17,63.46 L334.79,63.85 L335.43,64.25 L336.10,64.66 L336.79,65.06 L337.51,65.47 L338.25,65.87 L339.03,66.28 L339.83,66.70 L340.65,67.11 L341.51,67.53 L342.40,67.94 L343.33,68.36 L344.29,68.78 L345.28,69.21 L346.31,69.63 L347.37,70.06 L348.48,70.49 L349.62,70.92 L350.81,71.36 L352.04,71.79 L353.32,72.23 L354.64,72.67 L356.01,73.11 L357.44,73.55 L358.91,74.00 L360.44,74.45 L362.02,74.89 L363.66,75.35 L365.37,75.80 L367.13,76.25 L368.96,76.71 L370.86,77.17 L372.82,77.63 L374.86,78.09 L376.97,78.56 L379.16,79.03 L381.43,79.49 L383.78,79.96 L386.22,80.44 L388.75,80.91 L391.37,81.39 L394.09,81.87 L396.91,82.35 L399.83,82.83 L402.85,83.31 L405.99,83.80 L409.24,84.29 L412.62,84.78 L416.11,85.27 L419.74,85.77 L423.49,86.26 L427.39,86.76 L431.42,87.26 L435.61,87.76 L439.94,88.27 L444.44,88.77 L449.10,89.28 L453.93,89.79 L458.94,90.30 L464.14,90.82 L469.52,91.33 L475.10,91.85 L480.88,92.37 L486.88,92.89 L493.10,93.42 L499.54,93.94 L506.22,94.47 L513.15,95.00 L520.32,95.53 L527.76,96.07 L535.48,96.60 L543.48,97.14 L543.48,106.37 L535.48,105.88 L527.76,105.39 L520.32,104.90 L513.15,104.41 L506.22,103.92 L499.54,103.44 L493.10,102.95 L486.88,102.47 L480.88,101.98 L475.10,101.50 L469.52,101.02 L464.14,100.54 L458.94,100.05 L453.93,99.58 L449.10,99.10 L444.44,98.62 L439.94,98.14 L435.61,97.67 L431.42,97.19 L427.39,96.72 L423.49,96.25 L419.74,95.77 L416.11,95.30 L412.62,94.83 L409.24,94.36 L405.99,93.89 L402.85,93.43 L399.83,92.96 L396.91,92.49 L394.09,92.03 L391.37,91.56 L388.75,91.10 L386.22,90.64 L383.78,90.18 L381.43,89.72 L379.16,89.26 L376.97,88.80 L374.86,88.34 L372.82,87.89 L370.86,87.43 L368.96,86.97 L367.13,86.52 L365.37,86.07 L363.66,85.62 L362.02,85.16 L360.44,84.71 L358.91,84.26 L357.44,83.82 L356.01,83.37 L354.64,82.92 L353.32,82.48 L352.04,82.03 L350.81,81.59 L349.62,81.14 L348.48,80.70 L347.37,80.26 L346.31,79.82 L345.28,79.38 L344.29,78.94 L343.33,78.50 L342.40,78.07 L341.51,77.63 L340.65,77.20 L339.83,76.76 L339.03,76.33 L338.25,75.90 L337.51,75.47 L336.79,75.04 L336.10,74.61 L335.43,74.18 L334.79,73.75 L334.17,73.32 L333.57,72.90 L332.99,72.47 L332.43,72.05 L331.89,71.63 L331.37,71.20 L330.87,70.78 L330.39,70.36 L329.92,69.94 L329.47,69.52 L329.04,69.11 L328.62,68.69 L328.22,68.27 L327.83,67.86 L327.45,67.44 L327.09,67.03 L326.74,66.62 L326.40,66.21 L326.08,65.80 L325.76,65.39 L325.46,64.98 L325.17,64.57 L324.89,64.17 L324.62,63.76 L324.35,63.35 L324.10,62.95 L323.86,62.55 L323.62,62.15 L323.40,61.74 L323.18,61.34 L322.97,60.94 L322.76,60.55 L322.57,60.15 L322.38,59.75 L322.19,59.35 L322.02,58.96 L321.85,58.57 L321.68,58.17 L321.52,57.78 L321.37,57.39 L321.22,57.00 L321.08,56.61 L320.94,56.22 L320.81,55.83 L320.68,55.45 L320.56,55.06 L320.44,54.68 L320.33,54.29 L320.22,53.91 Z" fill="#fbe3e6" stroke="none" clip-path="url(#clipR0)"/>
<line x1="332.28" y1="6.84" x2="332.28" y2="120.60" stroke="#000" stroke-opacity="0.09" stroke-width="0.6"/>
<line x1="347.37" y1="6.84" x2="347.37" y2="120.60" stroke="#000" stroke-opacity="0.09" stroke-width="0.6"/>
<line x1="362.45" y1="6.84" x2="362.45" y2="120.60" stroke="#000" stroke-opacity="0.09" stroke-width="0.6"/>
<line x1="377.54" y1="6.84" x2="377.54" y2="120.60" stroke="#000" stroke-opacity="0.09" stroke-width="0.6"/>
<line x1="392.62" y1="6.84" x2="392.62" y2="120.60" stroke="#000" stroke-opacity="0.09" stroke-width="0.6"/>
<line x1="407.71" y1="6.84" x2="407.71" y2="120.60" stroke="#000" stroke-opacity="0.09" stroke-width="0.6"/>
<line x1="422.79" y1="6.84" x2="422.79" y2="120.60" stroke="#000" stroke-opacity="0.09" stroke-width="0.6"/>
<line x1="437.88" y1="6.84" x2="437.88" y2="120.60" stroke="#000" stroke-opacity="0.09" stroke-width="0.6"/>
<line x1="452.96" y1="6.84" x2="452.96" y2="120.60" stroke="#000" stroke-opacity="0.09" stroke-width="0.6"/>
<line x1="468.05" y1="6.84" x2="468.05" y2="120.60" stroke="#000" stroke-opacity="0.09" stroke-width="0.6"/>
<line x1="483.13" y1="6.84" x2="483.13" y2="120.60" stroke="#000" stroke-opacity="0.09" stroke-width="0.6"/>
<line x1="498.22" y1="6.84" x2="498.22" y2="120.60" stroke="#000" stroke-opacity="0.09" stroke-width="0.6"/>
<line x1="513.30" y1="6.84" x2="513.30" y2="120.60" stroke="#000" stroke-opacity="0.09" stroke-width="0.6"/>
<line x1="528.39" y1="6.84" x2="528.39" y2="120.60" stroke="#000" stroke-opacity="0.09" stroke-width="0.6"/>
<line x1="317.2" y1="111.12" x2="543.48" y2="111.12" stroke="#000" stroke-opacity="0.09" stroke-width="0.6"/>
<line x1="317.2" y1="101.64" x2="543.48" y2="101.64" stroke="#000" stroke-opacity="0.09" stroke-width="0.6"/>
<line x1="317.2" y1="92.16" x2="543.48" y2="92.16" stroke="#000" stroke-opacity="0.09" stroke-width="0.6"/>
<line x1="317.2" y1="82.68" x2="543.48" y2="82.68" stroke="#000" stroke-opacity="0.09" stroke-width="0.6"/>
<line x1="317.2" y1="73.20" x2="543.48" y2="73.20" stroke="#000" stroke-opacity="0.09" stroke-width="0.6"/>
<line x1="317.2" y1="63.72" x2="543.48" y2="63.72" stroke="#000" stroke-opacity="0.09" stroke-width="0.6"/>
<line x1="317.2" y1="54.24" x2="543.48" y2="54.24" stroke="#000" stroke-opacity="0.09" stroke-width="0.6"/>
<line x1="317.2" y1="44.76" x2="543.48" y2="44.76" stroke="#000" stroke-opacity="0.09" stroke-width="0.6"/>
<line x1="317.2" y1="35.28" x2="543.48" y2="35.28" stroke="#000" stroke-opacity="0.09" stroke-width="0.6"/>
<line x1="317.2" y1="25.80" x2="543.48" y2="25.80" stroke="#000" stroke-opacity="0.09" stroke-width="0.6"/>
<line x1="317.2" y1="16.32" x2="543.48" y2="16.32" stroke="#000" stroke-opacity="0.09" stroke-width="0.6"/>
<path d="M320.22,11.58 L320.27,11.78 L320.40,12.27 L320.59,12.98 L320.85,13.84 L321.16,14.83 L321.53,15.90 L321.95,17.02 L322.42,18.18 L322.95,19.36 L323.52,20.54 L324.13,21.71 L324.80,22.88 L325.51,24.03 L326.26,25.16 L327.06,26.28 L327.91,27.38 L328.79,28.46 L329.72,29.53 L330.69,30.57 L331.71,31.60 L332.76,32.62 L333.86,33.62 L334.99,34.60 L336.17,35.58 L337.38,36.54 L338.64,37.49 L339.94,38.43 L341.27,39.36 L342.64,40.28 L344.05,41.19 L345.50,42.10 L346.99,43.00 L348.51,43.89 L350.08,44.78 L351.68,45.66 L353.31,46.54 L354.99,47.41 L356.70,48.29 L358.44,49.15 L360.22,50.02 L362.04,50.88 L363.90,51.74 L365.79,52.60 L367.71,53.46 L369.67,54.32 L371.67,55.18 L373.70,56.03 L375.76,56.89 L377.86,57.75 L380.00,58.61 L382.17,59.46 L384.37,60.32 L386.61,61.18 L388.88,62.05 L391.19,62.91 L393.53,63.77 L395.90,64.64 L398.31,65.51 L400.75,66.38 L403.22,67.25 L405.73,68.12 L408.27,69.00 L410.84,69.88 L413.45,70.76 L416.08,71.65 L418.75,72.54 L421.46,73.43 L424.19,74.32 L426.96,75.22 L429.76,76.12 L432.60,77.02 L435.46,77.93 L438.36,78.84 L441.29,79.76 L444.25,80.67 L447.24,81.60 L450.27,82.52 L453.32,83.45 L456.41,84.38 L459.53,85.32 L462.68,86.26 L465.86,87.21 L469.07,88.16 L472.32,89.11 L475.59,90.07 L478.90,91.03 L482.23,91.99 L485.60,92.97 L489.00,93.94 L492.43,94.92 L495.89,95.90 L499.38,96.89 L502.90,97.88 L506.45,98.88 L510.03,99.88 L513.64,100.89 L517.28,101.90 L520.96,102.91 L524.66,103.93 L528.39,104.96" fill="none" stroke="#2a2a2a" stroke-width="1.05" />
<circle cx="320.22" cy="11.58" r="1.3" fill="#111"/>
<path d="M320.22,25.80 L320.24,25.89 L320.30,26.11 L320.40,26.44 L320.52,26.86 L320.66,27.35 L320.84,27.90 L321.04,28.50 L321.26,29.15 L321.51,29.83 L321.78,30.53 L322.07,31.25 L322.38,31.99 L322.72,32.73 L323.07,33.49 L323.45,34.24 L323.85,35.00 L324.27,35.76 L324.71,36.51 L325.17,37.27 L325.65,38.02 L326.14,38.76 L326.66,39.51 L327.20,40.24 L327.75,40.98 L328.33,41.70 L328.92,42.43 L329.53,43.15 L330.16,43.86 L330.81,44.57 L331.48,45.28 L332.16,45.98 L332.87,46.68 L333.59,47.37 L334.32,48.07 L335.08,48.76 L335.85,49.44 L336.64,50.13 L337.45,50.81 L338.28,51.49 L339.12,52.17 L339.98,52.84 L340.85,53.52 L341.75,54.19 L342.66,54.86 L343.58,55.53 L344.53,56.20 L345.48,56.87 L346.46,57.54 L347.45,58.21 L348.46,58.88 L349.49,59.55 L350.53,60.22 L351.59,60.89 L352.66,61.56 L353.75,62.23 L354.85,62.90 L355.97,63.57 L357.11,64.25 L358.26,64.92 L359.43,65.60 L360.62,66.27 L361.82,66.95 L363.03,67.63 L364.26,68.31 L365.51,68.99 L366.77,69.67 L368.05,70.36 L369.34,71.04 L370.65,71.73 L371.97,72.42 L373.31,73.11 L374.67,73.81 L376.03,74.50 L377.42,75.20 L378.82,75.90 L380.23,76.61 L381.66,77.31 L383.10,78.02 L384.56,78.73 L386.04,79.44 L387.52,80.15 L389.03,80.87 L390.55,81.59 L392.08,82.31 L393.63,83.04 L395.19,83.77 L396.76,84.50 L398.35,85.23 L399.96,85.96 L401.58,86.70 L403.21,87.44 L404.86,88.19 L406.53,88.93 L408.20,89.68 L409.90,90.44 L411.60,91.19 L413.32,91.95 L415.06,92.71 L416.81,93.48 L418.57,94.25" fill="none" stroke="#2a2a2a" stroke-width="1.05" stroke-dasharray="4,1.6,1,1.6"/>
<circle cx="320.22" cy="25.80" r="1.3" fill="#111"/>
<path d="M320.22,34.81 L320.23,34.86 L320.26,34.98 L320.32,35.17 L320.38,35.42 L320.46,35.71 L320.56,36.04 L320.67,36.42 L320.79,36.82 L320.93,37.26 L321.07,37.71 L321.23,38.20 L321.41,38.69 L321.59,39.21 L321.79,39.74 L321.99,40.27 L322.21,40.82 L322.44,41.37 L322.68,41.93 L322.93,42.50 L323.20,43.06 L323.47,43.63 L323.76,44.20 L324.05,44.77 L324.36,45.34 L324.67,45.91 L325.00,46.49 L325.33,47.05 L325.68,47.62 L326.03,48.19 L326.40,48.75 L326.78,49.32 L327.16,49.88 L327.56,50.44 L327.96,51.00 L328.38,51.56 L328.80,52.11 L329.24,52.66 L329.68,53.22 L330.13,53.77 L330.60,54.32 L331.07,54.86 L331.55,55.41 L332.04,55.95 L332.54,56.49 L333.05,57.04 L333.56,57.58 L334.09,58.12 L334.63,58.66 L335.17,59.19 L335.73,59.73 L336.29,60.27 L336.86,60.80 L337.44,61.34 L338.03,61.87 L338.63,62.40 L339.24,62.94 L339.85,63.47 L340.48,64.01 L341.11,64.54 L341.75,65.07 L342.40,65.60 L343.06,66.14 L343.73,66.67 L344.40,67.20 L345.09,67.74 L345.78,68.27 L346.48,68.81 L347.19,69.34 L347.91,69.88 L348.64,70.41 L349.37,70.95 L350.11,71.49 L350.87,72.02 L351.63,72.56 L352.39,73.10 L353.17,73.64 L353.95,74.18 L354.75,74.72 L355.55,75.27 L356.36,75.81 L357.17,76.36 L358.00,76.90 L358.83,77.45 L359.67,78.00 L360.52,78.55 L361.38,79.10 L362.25,79.65 L363.12,80.20 L364.00,80.76 L364.89,81.31 L365.79,81.87 L366.69,82.43 L367.61,82.99 L368.53,83.55 L369.46,84.11 L370.40,84.67 L371.34,85.24 L372.29,85.81 L373.25,86.38 L374.22,86.95" fill="none" stroke="#2a2a2a" stroke-width="1.05" stroke-dasharray="3.2,2"/>
<circle cx="320.22" cy="34.81" r="1.3" fill="#111"/>
<path d="M320.22,44.05 L320.22,44.06 L320.23,44.10 L320.24,44.15 L320.26,44.21 L320.28,44.29 L320.31,44.38 L320.33,44.49 L320.37,44.61 L320.40,44.74 L320.44,44.88 L320.48,45.03 L320.53,45.19 L320.58,45.36 L320.63,45.53 L320.68,45.72 L320.74,45.91 L320.80,46.12 L320.86,46.32 L320.93,46.54 L321.00,46.76 L321.07,46.99 L321.14,47.22 L321.22,47.46 L321.30,47.70 L321.38,47.95 L321.47,48.21 L321.55,48.46 L321.64,48.72 L321.74,48.99 L321.83,49.26 L321.93,49.53 L322.03,49.80 L322.14,50.08 L322.24,50.36 L322.35,50.64 L322.46,50.93 L322.58,51.22 L322.69,51.51 L322.81,51.80 L322.93,52.09 L323.05,52.39 L323.18,52.69 L323.31,52.99 L323.44,53.29 L323.57,53.59 L323.71,53.90 L323.84,54.20 L323.98,54.51 L324.13,54.82 L324.27,55.13 L324.42,55.44 L324.57,55.75 L324.72,56.07 L324.87,56.38 L325.03,56.69 L325.19,57.01 L325.35,57.33 L325.51,57.65 L325.68,57.97 L325.85,58.29 L326.02,58.61 L326.19,58.93 L326.36,59.25 L326.54,59.58 L326.72,59.90 L326.90,60.23 L327.08,60.55 L327.27,60.88 L327.46,61.21 L327.65,61.54 L327.84,61.87 L328.03,62.20 L328.23,62.53 L328.43,62.86 L328.63,63.19 L328.83,63.53 L329.04,63.86 L329.24,64.20 L329.45,64.53 L329.67,64.87 L329.88,65.21 L330.10,65.54 L330.31,65.88 L330.53,66.22 L330.76,66.56 L330.98,66.91 L331.21,67.25 L331.43,67.59 L331.66,67.94 L331.90,68.28 L332.13,68.63 L332.37,68.97 L332.61,69.32 L332.85,69.67 L333.09,70.02 L333.34,70.37 L333.58,70.72 L333.83,71.07 L334.08,71.42 L334.34,71.78" fill="none" stroke="#2a2a2a" stroke-width="1.05" stroke-dasharray="2,1.4,0.8,1.4"/>
<circle cx="320.22" cy="44.05" r="1.3" fill="#111"/>
<rect x="317.2" y="6.84" width="226.28" height="113.76" fill="none" stroke="#6e6e6e" stroke-width="0.8"/>
<line x1="317.20" y1="120.60" x2="317.20" y2="118.20" stroke="#6e6e6e" stroke-width="0.8"/>
<line x1="317.20" y1="6.84" x2="317.20" y2="9.24" stroke="#6e6e6e" stroke-width="0.8"/>
<text x="317.20" y="132.60" font-size="9.2" text-anchor="middle" fill="#1e1e1e" stroke="#1e1e1e" stroke-width="0.2" >0</text>
<line x1="332.28" y1="120.60" x2="332.28" y2="118.20" stroke="#6e6e6e" stroke-width="0.8"/>
<line x1="332.28" y1="6.84" x2="332.28" y2="9.24" stroke="#6e6e6e" stroke-width="0.8"/>
<text x="332.28" y="132.60" font-size="9.2" text-anchor="middle" fill="#1e1e1e" stroke="#1e1e1e" stroke-width="0.2" >5</text>
<line x1="347.37" y1="120.60" x2="347.37" y2="118.20" stroke="#6e6e6e" stroke-width="0.8"/>
<line x1="347.37" y1="6.84" x2="347.37" y2="9.24" stroke="#6e6e6e" stroke-width="0.8"/>
<text x="347.37" y="132.60" font-size="9.2" text-anchor="middle" fill="#1e1e1e" stroke="#1e1e1e" stroke-width="0.2" >10</text>
<line x1="362.45" y1="120.60" x2="362.45" y2="118.20" stroke="#6e6e6e" stroke-width="0.8"/>
<line x1="362.45" y1="6.84" x2="362.45" y2="9.24" stroke="#6e6e6e" stroke-width="0.8"/>
<text x="362.45" y="132.60" font-size="9.2" text-anchor="middle" fill="#1e1e1e" stroke="#1e1e1e" stroke-width="0.2" >15</text>
<line x1="377.54" y1="120.60" x2="377.54" y2="118.20" stroke="#6e6e6e" stroke-width="0.8"/>
<line x1="377.54" y1="6.84" x2="377.54" y2="9.24" stroke="#6e6e6e" stroke-width="0.8"/>
<text x="377.54" y="132.60" font-size="9.2" text-anchor="middle" fill="#1e1e1e" stroke="#1e1e1e" stroke-width="0.2" >20</text>
<line x1="392.62" y1="120.60" x2="392.62" y2="118.20" stroke="#6e6e6e" stroke-width="0.8"/>
<line x1="392.62" y1="6.84" x2="392.62" y2="9.24" stroke="#6e6e6e" stroke-width="0.8"/>
<text x="392.62" y="132.60" font-size="9.2" text-anchor="middle" fill="#1e1e1e" stroke="#1e1e1e" stroke-width="0.2" >25</text>
<line x1="407.71" y1="120.60" x2="407.71" y2="118.20" stroke="#6e6e6e" stroke-width="0.8"/>
<line x1="407.71" y1="6.84" x2="407.71" y2="9.24" stroke="#6e6e6e" stroke-width="0.8"/>
<text x="407.71" y="132.60" font-size="9.2" text-anchor="middle" fill="#1e1e1e" stroke="#1e1e1e" stroke-width="0.2" >30</text>
<line x1="422.79" y1="120.60" x2="422.79" y2="118.20" stroke="#6e6e6e" stroke-width="0.8"/>
<line x1="422.79" y1="6.84" x2="422.79" y2="9.24" stroke="#6e6e6e" stroke-width="0.8"/>
<text x="422.79" y="132.60" font-size="9.2" text-anchor="middle" fill="#1e1e1e" stroke="#1e1e1e" stroke-width="0.2" >35</text>
<line x1="437.88" y1="120.60" x2="437.88" y2="118.20" stroke="#6e6e6e" stroke-width="0.8"/>
<line x1="437.88" y1="6.84" x2="437.88" y2="9.24" stroke="#6e6e6e" stroke-width="0.8"/>
<text x="437.88" y="132.60" font-size="9.2" text-anchor="middle" fill="#1e1e1e" stroke="#1e1e1e" stroke-width="0.2" >40</text>
<line x1="452.96" y1="120.60" x2="452.96" y2="118.20" stroke="#6e6e6e" stroke-width="0.8"/>
<line x1="452.96" y1="6.84" x2="452.96" y2="9.24" stroke="#6e6e6e" stroke-width="0.8"/>
<text x="452.96" y="132.60" font-size="9.2" text-anchor="middle" fill="#1e1e1e" stroke="#1e1e1e" stroke-width="0.2" >45</text>
<line x1="468.05" y1="120.60" x2="468.05" y2="118.20" stroke="#6e6e6e" stroke-width="0.8"/>
<line x1="468.05" y1="6.84" x2="468.05" y2="9.24" stroke="#6e6e6e" stroke-width="0.8"/>
<text x="468.05" y="132.60" font-size="9.2" text-anchor="middle" fill="#1e1e1e" stroke="#1e1e1e" stroke-width="0.2" >50</text>
<line x1="483.13" y1="120.60" x2="483.13" y2="118.20" stroke="#6e6e6e" stroke-width="0.8"/>
<line x1="483.13" y1="6.84" x2="483.13" y2="9.24" stroke="#6e6e6e" stroke-width="0.8"/>
<text x="483.13" y="132.60" font-size="9.2" text-anchor="middle" fill="#1e1e1e" stroke="#1e1e1e" stroke-width="0.2" >55</text>
<line x1="498.22" y1="120.60" x2="498.22" y2="118.20" stroke="#6e6e6e" stroke-width="0.8"/>
<line x1="498.22" y1="6.84" x2="498.22" y2="9.24" stroke="#6e6e6e" stroke-width="0.8"/>
<text x="498.22" y="132.60" font-size="9.2" text-anchor="middle" fill="#1e1e1e" stroke="#1e1e1e" stroke-width="0.2" >60</text>
<line x1="513.30" y1="120.60" x2="513.30" y2="118.20" stroke="#6e6e6e" stroke-width="0.8"/>
<line x1="513.30" y1="6.84" x2="513.30" y2="9.24" stroke="#6e6e6e" stroke-width="0.8"/>
<text x="513.30" y="132.60" font-size="9.2" text-anchor="middle" fill="#1e1e1e" stroke="#1e1e1e" stroke-width="0.2" >65</text>
<line x1="528.39" y1="120.60" x2="528.39" y2="118.20" stroke="#6e6e6e" stroke-width="0.8"/>
<line x1="528.39" y1="6.84" x2="528.39" y2="9.24" stroke="#6e6e6e" stroke-width="0.8"/>
<text x="528.39" y="132.60" font-size="9.2" text-anchor="middle" fill="#1e1e1e" stroke="#1e1e1e" stroke-width="0.2" >70</text>
<line x1="543.48" y1="120.60" x2="543.48" y2="118.20" stroke="#6e6e6e" stroke-width="0.8"/>
<line x1="543.48" y1="6.84" x2="543.48" y2="9.24" stroke="#6e6e6e" stroke-width="0.8"/>
<text x="543.48" y="132.60" font-size="9.2" text-anchor="middle" fill="#1e1e1e" stroke="#1e1e1e" stroke-width="0.2" >75</text>
<line x1="317.2" y1="120.60" x2="319.59999999999997" y2="120.60" stroke="#6e6e6e" stroke-width="0.8"/>
<line x1="543.48" y1="120.60" x2="541.08" y2="120.60" stroke="#6e6e6e" stroke-width="0.8"/>
<text x="314.00" y="122.80" font-size="9.4" text-anchor="end" fill="#1e1e1e" stroke="#1e1e1e" stroke-width="0.2" >2.7</text>
<line x1="317.2" y1="111.12" x2="319.59999999999997" y2="111.12" stroke="#6e6e6e" stroke-width="0.8"/>
<line x1="543.48" y1="111.12" x2="541.08" y2="111.12" stroke="#6e6e6e" stroke-width="0.8"/>
<text x="314.00" y="113.32" font-size="9.4" text-anchor="end" fill="#1e1e1e" stroke="#1e1e1e" stroke-width="0.2" >2.9</text>
<line x1="317.2" y1="101.64" x2="319.59999999999997" y2="101.64" stroke="#6e6e6e" stroke-width="0.8"/>
<line x1="543.48" y1="101.64" x2="541.08" y2="101.64" stroke="#6e6e6e" stroke-width="0.8"/>
<text x="314.00" y="103.84" font-size="9.4" text-anchor="end" fill="#1e1e1e" stroke="#1e1e1e" stroke-width="0.2" >3.1</text>
<line x1="317.2" y1="92.16" x2="319.59999999999997" y2="92.16" stroke="#6e6e6e" stroke-width="0.8"/>
<line x1="543.48" y1="92.16" x2="541.08" y2="92.16" stroke="#6e6e6e" stroke-width="0.8"/>
<text x="314.00" y="94.36" font-size="9.4" text-anchor="end" fill="#1e1e1e" stroke="#1e1e1e" stroke-width="0.2" >3.3</text>
<line x1="317.2" y1="82.68" x2="319.59999999999997" y2="82.68" stroke="#6e6e6e" stroke-width="0.8"/>
<line x1="543.48" y1="82.68" x2="541.08" y2="82.68" stroke="#6e6e6e" stroke-width="0.8"/>
<text x="314.00" y="84.88" font-size="9.4" text-anchor="end" fill="#1e1e1e" stroke="#1e1e1e" stroke-width="0.2" >3.5</text>
<line x1="317.2" y1="73.20" x2="319.59999999999997" y2="73.20" stroke="#6e6e6e" stroke-width="0.8"/>
<line x1="543.48" y1="73.20" x2="541.08" y2="73.20" stroke="#6e6e6e" stroke-width="0.8"/>
<text x="314.00" y="75.40" font-size="9.4" text-anchor="end" fill="#1e1e1e" stroke="#1e1e1e" stroke-width="0.2" >3.7</text>
<line x1="317.2" y1="63.72" x2="319.59999999999997" y2="63.72" stroke="#6e6e6e" stroke-width="0.8"/>
<line x1="543.48" y1="63.72" x2="541.08" y2="63.72" stroke="#6e6e6e" stroke-width="0.8"/>
<text x="314.00" y="65.92" font-size="9.4" text-anchor="end" fill="#1e1e1e" stroke="#1e1e1e" stroke-width="0.2" >3.9</text>
<line x1="317.2" y1="54.24" x2="319.59999999999997" y2="54.24" stroke="#6e6e6e" stroke-width="0.8"/>
<line x1="543.48" y1="54.24" x2="541.08" y2="54.24" stroke="#6e6e6e" stroke-width="0.8"/>
<text x="314.00" y="56.44" font-size="9.4" text-anchor="end" fill="#1e1e1e" stroke="#1e1e1e" stroke-width="0.2" >4.1</text>
<line x1="317.2" y1="44.76" x2="319.59999999999997" y2="44.76" stroke="#6e6e6e" stroke-width="0.8"/>
<line x1="543.48" y1="44.76" x2="541.08" y2="44.76" stroke="#6e6e6e" stroke-width="0.8"/>
<text x="314.00" y="46.96" font-size="9.4" text-anchor="end" fill="#1e1e1e" stroke="#1e1e1e" stroke-width="0.2" >4.3</text>
<line x1="317.2" y1="35.28" x2="319.59999999999997" y2="35.28" stroke="#6e6e6e" stroke-width="0.8"/>
<line x1="543.48" y1="35.28" x2="541.08" y2="35.28" stroke="#6e6e6e" stroke-width="0.8"/>
<text x="314.00" y="37.48" font-size="9.4" text-anchor="end" fill="#1e1e1e" stroke="#1e1e1e" stroke-width="0.2" >4.5</text>
<line x1="317.2" y1="25.80" x2="319.59999999999997" y2="25.80" stroke="#6e6e6e" stroke-width="0.8"/>
<line x1="543.48" y1="25.80" x2="541.08" y2="25.80" stroke="#6e6e6e" stroke-width="0.8"/>
<text x="314.00" y="28.00" font-size="9.4" text-anchor="end" fill="#1e1e1e" stroke="#1e1e1e" stroke-width="0.2" >4.7</text>
<line x1="317.2" y1="16.32" x2="319.59999999999997" y2="16.32" stroke="#6e6e6e" stroke-width="0.8"/>
<line x1="543.48" y1="16.32" x2="541.08" y2="16.32" stroke="#6e6e6e" stroke-width="0.8"/>
<text x="314.00" y="18.52" font-size="9.4" text-anchor="end" fill="#1e1e1e" stroke="#1e1e1e" stroke-width="0.2" >4.9</text>
<line x1="317.2" y1="6.84" x2="319.59999999999997" y2="6.84" stroke="#6e6e6e" stroke-width="0.8"/>
<line x1="543.48" y1="6.84" x2="541.08" y2="6.84" stroke="#6e6e6e" stroke-width="0.8"/>
<text x="314.00" y="9.04" font-size="9.4" text-anchor="end" fill="#1e1e1e" stroke="#1e1e1e" stroke-width="0.2" >5.1</text>
<text x="428.50" y="147.10" font-size="10.8" text-anchor="middle" fill="#1a1a1a" stroke="#1a1a1a" stroke-width="0.25" >Technical Lifetime [Years]</text>
<text transform="translate(295.0,63.12) rotate(-90)" font-size="10.6" text-anchor="middle" fill="#333"><tspan font-family='"Liberation Sans", sans-serif'>Reliability Index </tspan><tspan font-style="italic" dx="4.6">β</tspan></text>
<clipPath id="clipR1"><rect x="317.2" y="155.54" width="226.28" height="113.76"/></clipPath>
<path d="M320.22,165.75 L320.33,165.89 L320.44,166.03 L320.56,166.17 L320.68,166.32 L320.81,166.46 L320.94,166.61 L321.08,166.77 L321.22,166.92 L321.37,167.08 L321.52,167.25 L321.68,167.41 L321.85,167.58 L322.02,167.75 L322.19,167.93 L322.38,168.10 L322.57,168.29 L322.76,168.47 L322.97,168.66 L323.18,168.85 L323.40,169.04 L323.62,169.23 L323.86,169.43 L324.10,169.63 L324.35,169.84 L324.62,170.05 L324.89,170.26 L325.17,170.47 L325.46,170.69 L325.76,170.91 L326.08,171.13 L326.40,171.35 L326.74,171.58 L327.09,171.81 L327.45,172.05 L327.83,172.29 L328.22,172.53 L328.62,172.77 L329.04,173.02 L329.47,173.27 L329.92,173.52 L330.39,173.77 L330.87,174.03 L331.37,174.29 L331.89,174.56 L332.43,174.83 L332.99,175.10 L333.57,175.37 L334.17,175.65 L334.79,175.93 L335.43,176.21 L336.10,176.49 L336.79,176.78 L337.51,177.07 L338.25,177.37 L339.03,177.67 L339.83,177.97 L340.65,178.27 L341.51,178.58 L342.40,178.89 L343.33,179.20 L344.29,179.51 L345.28,179.83 L346.31,180.15 L347.37,180.48 L348.48,180.80 L349.62,181.13 L350.81,181.47 L352.04,181.80 L353.32,182.14 L354.64,182.49 L356.01,182.83 L357.44,183.18 L358.91,183.53 L360.44,183.89 L362.02,184.24 L363.66,184.60 L365.37,184.97 L367.13,185.33 L368.96,185.70 L370.86,186.07 L372.82,186.45 L374.86,186.83 L376.97,187.21 L379.16,187.59 L381.43,187.98 L383.78,188.37 L386.22,188.76 L388.75,189.16 L391.37,189.56 L394.09,189.96 L396.91,190.37 L399.83,190.77 L402.85,191.19 L405.99,191.60 L409.24,192.02 L412.62,192.44 L416.11,192.86 L419.74,193.29 L423.49,193.72 L427.39,194.15 L431.42,194.58 L435.61,195.02 L439.94,195.46 L444.44,195.91 L449.10,196.35 L453.93,196.80 L458.94,197.26 L464.14,197.71 L469.52,198.17 L475.10,198.63 L480.88,199.10 L486.88,199.57 L493.10,200.04 L499.54,200.51 L506.22,200.99 L513.15,201.47 L520.32,201.95 L527.76,202.44 L535.48,202.93 L543.48,203.42 L543.48,221.88 L535.48,221.48 L527.76,221.08 L520.32,220.68 L513.15,220.28 L506.22,219.88 L499.54,219.48 L493.10,219.08 L486.88,218.68 L480.88,218.27 L475.10,217.87 L469.52,217.47 L464.14,217.07 L458.94,216.67 L453.93,216.27 L449.10,215.87 L444.44,215.47 L439.94,215.07 L435.61,214.67 L431.42,214.27 L427.39,213.87 L423.49,213.47 L419.74,213.06 L416.11,212.66 L412.62,212.26 L409.24,211.86 L405.99,211.46 L402.85,211.06 L399.83,210.66 L396.91,210.26 L394.09,209.86 L391.37,209.46 L388.75,209.06 L386.22,208.66 L383.78,208.26 L381.43,207.85 L379.16,207.45 L376.97,207.05 L374.86,206.65 L372.82,206.25 L370.86,205.85 L368.96,205.45 L367.13,205.05 L365.37,204.65 L363.66,204.25 L362.02,203.85 L360.44,203.45 L358.91,203.05 L357.44,202.64 L356.01,202.24 L354.64,201.84 L353.32,201.44 L352.04,201.04 L350.81,200.64 L349.62,200.24 L348.48,199.84 L347.37,199.44 L346.31,199.04 L345.28,198.64 L344.29,198.24 L343.33,197.84 L342.40,197.43 L341.51,197.03 L340.65,196.63 L339.83,196.23 L339.03,195.83 L338.25,195.43 L337.51,195.03 L336.79,194.63 L336.10,194.23 L335.43,193.83 L334.79,193.43 L334.17,193.03 L333.57,192.63 L332.99,192.22 L332.43,191.82 L331.89,191.42 L331.37,191.02 L330.87,190.62 L330.39,190.22 L329.92,189.82 L329.47,189.42 L329.04,189.02 L328.62,188.62 L328.22,188.22 L327.83,187.82 L327.45,187.42 L327.09,187.01 L326.74,186.61 L326.40,186.21 L326.08,185.81 L325.76,185.41 L325.46,185.01 L325.17,184.61 L324.89,184.21 L324.62,183.81 L324.35,183.41 L324.10,183.01 L323.86,182.61 L323.62,182.21 L323.40,181.80 L323.18,181.40 L322.97,181.00 L322.76,180.60 L322.57,180.20 L322.38,179.80 L322.19,179.40 L322.02,179.00 L321.85,178.60 L321.68,178.20 L321.52,177.80 L321.37,177.40 L321.22,177.00 L321.08,176.59 L320.94,176.19 L320.81,175.79 L320.68,175.39 L320.56,174.99 L320.44,174.59 L320.33,174.19 L320.22,173.79 Z" fill="#e2f2ec" stroke="none" clip-path="url(#clipR1)"/>
<path d="M320.22,173.79 L320.33,174.19 L320.44,174.59 L320.56,174.99 L320.68,175.39 L320.81,175.79 L320.94,176.19 L321.08,176.59 L321.22,177.00 L321.37,177.40 L321.52,177.80 L321.68,178.20 L321.85,178.60 L322.02,179.00 L322.19,179.40 L322.38,179.80 L322.57,180.20 L322.76,180.60 L322.97,181.00 L323.18,181.40 L323.40,181.80 L323.62,182.21 L323.86,182.61 L324.10,183.01 L324.35,183.41 L324.62,183.81 L324.89,184.21 L325.17,184.61 L325.46,185.01 L325.76,185.41 L326.08,185.81 L326.40,186.21 L326.74,186.61 L327.09,187.01 L327.45,187.42 L327.83,187.82 L328.22,188.22 L328.62,188.62 L329.04,189.02 L329.47,189.42 L329.92,189.82 L330.39,190.22 L330.87,190.62 L331.37,191.02 L331.89,191.42 L332.43,191.82 L332.99,192.22 L333.57,192.63 L334.17,193.03 L334.79,193.43 L335.43,193.83 L336.10,194.23 L336.79,194.63 L337.51,195.03 L338.25,195.43 L339.03,195.83 L339.83,196.23 L340.65,196.63 L341.51,197.03 L342.40,197.43 L343.33,197.84 L344.29,198.24 L345.28,198.64 L346.31,199.04 L347.37,199.44 L348.48,199.84 L349.62,200.24 L350.81,200.64 L352.04,201.04 L353.32,201.44 L354.64,201.84 L356.01,202.24 L357.44,202.64 L358.91,203.05 L360.44,203.45 L362.02,203.85 L363.66,204.25 L365.37,204.65 L367.13,205.05 L368.96,205.45 L370.86,205.85 L372.82,206.25 L374.86,206.65 L376.97,207.05 L379.16,207.45 L381.43,207.85 L383.78,208.26 L386.22,208.66 L388.75,209.06 L391.37,209.46 L394.09,209.86 L396.91,210.26 L399.83,210.66 L402.85,211.06 L405.99,211.46 L409.24,211.86 L412.62,212.26 L416.11,212.66 L419.74,213.06 L423.49,213.47 L427.39,213.87 L431.42,214.27 L435.61,214.67 L439.94,215.07 L444.44,215.47 L449.10,215.87 L453.93,216.27 L458.94,216.67 L464.14,217.07 L469.52,217.47 L475.10,217.87 L480.88,218.27 L486.88,218.68 L493.10,219.08 L499.54,219.48 L506.22,219.88 L513.15,220.28 L520.32,220.68 L527.76,221.08 L535.48,221.48 L543.48,221.88 L543.48,230.24 L535.48,230.01 L527.76,229.78 L520.32,229.55 L513.15,229.31 L506.22,229.08 L499.54,228.84 L493.10,228.61 L486.88,228.37 L480.88,228.12 L475.10,227.88 L469.52,227.64 L464.14,227.39 L458.94,227.14 L453.93,226.89 L449.10,226.64 L444.44,226.39 L439.94,226.13 L435.61,225.88 L431.42,225.62 L427.39,225.36 L423.49,225.10 L419.74,224.84 L416.11,224.57 L412.62,224.30 L409.24,224.04 L405.99,223.77 L402.85,223.50 L399.83,223.22 L396.91,222.95 L394.09,222.67 L391.37,222.40 L388.75,222.12 L386.22,221.84 L383.78,221.55 L381.43,221.27 L379.16,220.98 L376.97,220.70 L374.86,220.41 L372.82,220.12 L370.86,219.82 L368.96,219.53 L367.13,219.23 L365.37,218.94 L363.66,218.64 L362.02,218.34 L360.44,218.03 L358.91,217.73 L357.44,217.42 L356.01,217.12 L354.64,216.81 L353.32,216.50 L352.04,216.19 L350.81,215.87 L349.62,215.56 L348.48,215.24 L347.37,214.92 L346.31,214.60 L345.28,214.28 L344.29,213.95 L343.33,213.63 L342.40,213.30 L341.51,212.97 L340.65,212.64 L339.83,212.31 L339.03,211.98 L338.25,211.64 L337.51,211.31 L336.79,210.97 L336.10,210.63 L335.43,210.28 L334.79,209.94 L334.17,209.60 L333.57,209.25 L332.99,208.90 L332.43,208.55 L331.89,208.20 L331.37,207.85 L330.87,207.49 L330.39,207.13 L329.92,206.78 L329.47,206.42 L329.04,206.06 L328.62,205.69 L328.22,205.33 L327.83,204.96 L327.45,204.59 L327.09,204.22 L326.74,203.85 L326.40,203.48 L326.08,203.10 L325.76,202.73 L325.46,202.35 L325.17,201.97 L324.89,201.59 L324.62,201.21 L324.35,200.82 L324.10,200.44 L323.86,200.05 L323.62,199.66 L323.40,199.27 L323.18,198.87 L322.97,198.48 L322.76,198.08 L322.57,197.69 L322.38,197.29 L322.19,196.89 L322.02,196.48 L321.85,196.08 L321.68,195.67 L321.52,195.27 L321.37,194.86 L321.22,194.45 L321.08,194.03 L320.94,193.62 L320.81,193.20 L320.68,192.79 L320.56,192.37 L320.44,191.95 L320.33,191.52 L320.22,191.10 Z" fill="#fdfbe0" stroke="none" clip-path="url(#clipR1)"/>
<path d="M320.22,191.10 L320.33,191.52 L320.44,191.95 L320.56,192.37 L320.68,192.79 L320.81,193.20 L320.94,193.62 L321.08,194.03 L321.22,194.45 L321.37,194.86 L321.52,195.27 L321.68,195.67 L321.85,196.08 L322.02,196.48 L322.19,196.89 L322.38,197.29 L322.57,197.69 L322.76,198.08 L322.97,198.48 L323.18,198.87 L323.40,199.27 L323.62,199.66 L323.86,200.05 L324.10,200.44 L324.35,200.82 L324.62,201.21 L324.89,201.59 L325.17,201.97 L325.46,202.35 L325.76,202.73 L326.08,203.10 L326.40,203.48 L326.74,203.85 L327.09,204.22 L327.45,204.59 L327.83,204.96 L328.22,205.33 L328.62,205.69 L329.04,206.06 L329.47,206.42 L329.92,206.78 L330.39,207.13 L330.87,207.49 L331.37,207.85 L331.89,208.20 L332.43,208.55 L332.99,208.90 L333.57,209.25 L334.17,209.60 L334.79,209.94 L335.43,210.28 L336.10,210.63 L336.79,210.97 L337.51,211.31 L338.25,211.64 L339.03,211.98 L339.83,212.31 L340.65,212.64 L341.51,212.97 L342.40,213.30 L343.33,213.63 L344.29,213.95 L345.28,214.28 L346.31,214.60 L347.37,214.92 L348.48,215.24 L349.62,215.56 L350.81,215.87 L352.04,216.19 L353.32,216.50 L354.64,216.81 L356.01,217.12 L357.44,217.42 L358.91,217.73 L360.44,218.03 L362.02,218.34 L363.66,218.64 L365.37,218.94 L367.13,219.23 L368.96,219.53 L370.86,219.82 L372.82,220.12 L374.86,220.41 L376.97,220.70 L379.16,220.98 L381.43,221.27 L383.78,221.55 L386.22,221.84 L388.75,222.12 L391.37,222.40 L394.09,222.67 L396.91,222.95 L399.83,223.22 L402.85,223.50 L405.99,223.77 L409.24,224.04 L412.62,224.30 L416.11,224.57 L419.74,224.84 L423.49,225.10 L427.39,225.36 L431.42,225.62 L435.61,225.88 L439.94,226.13 L444.44,226.39 L449.10,226.64 L453.93,226.89 L458.94,227.14 L464.14,227.39 L469.52,227.64 L475.10,227.88 L480.88,228.12 L486.88,228.37 L493.10,228.61 L499.54,228.84 L506.22,229.08 L513.15,229.31 L520.32,229.55 L527.76,229.78 L535.48,230.01 L543.48,230.24 L543.48,245.84 L535.48,245.30 L527.76,244.77 L520.32,244.23 L513.15,243.70 L506.22,243.17 L499.54,242.64 L493.10,242.12 L486.88,241.59 L480.88,241.07 L475.10,240.55 L469.52,240.03 L464.14,239.52 L458.94,239.00 L453.93,238.49 L449.10,237.98 L444.44,237.47 L439.94,236.97 L435.61,236.46 L431.42,235.96 L427.39,235.46 L423.49,234.96 L419.74,234.47 L416.11,233.97 L412.62,233.48 L409.24,232.99 L405.99,232.50 L402.85,232.01 L399.83,231.53 L396.91,231.05 L394.09,230.57 L391.37,230.09 L388.75,229.61 L386.22,229.14 L383.78,228.66 L381.43,228.19 L379.16,227.73 L376.97,227.26 L374.86,226.79 L372.82,226.33 L370.86,225.87 L368.96,225.41 L367.13,224.95 L365.37,224.50 L363.66,224.05 L362.02,223.59 L360.44,223.15 L358.91,222.70 L357.44,222.25 L356.01,221.81 L354.64,221.37 L353.32,220.93 L352.04,220.49 L350.81,220.06 L349.62,219.62 L348.48,219.19 L347.37,218.76 L346.31,218.33 L345.28,217.91 L344.29,217.48 L343.33,217.06 L342.40,216.64 L341.51,216.23 L340.65,215.81 L339.83,215.40 L339.03,214.98 L338.25,214.57 L337.51,214.17 L336.79,213.76 L336.10,213.36 L335.43,212.95 L334.79,212.55 L334.17,212.16 L333.57,211.76 L332.99,211.37 L332.43,210.97 L331.89,210.58 L331.37,210.20 L330.87,209.81 L330.39,209.42 L329.92,209.04 L329.47,208.66 L329.04,208.28 L328.62,207.91 L328.22,207.53 L327.83,207.16 L327.45,206.79 L327.09,206.42 L326.74,206.05 L326.40,205.69 L326.08,205.33 L325.76,204.97 L325.46,204.61 L325.17,204.25 L324.89,203.89 L324.62,203.54 L324.35,203.19 L324.10,202.84 L323.86,202.49 L323.62,202.15 L323.40,201.81 L323.18,201.47 L322.97,201.13 L322.76,200.79 L322.57,200.45 L322.38,200.12 L322.19,199.79 L322.02,199.46 L321.85,199.13 L321.68,198.81 L321.52,198.48 L321.37,198.16 L321.22,197.84 L321.08,197.52 L320.94,197.21 L320.81,196.89 L320.68,196.58 L320.56,196.27 L320.44,195.97 L320.33,195.66 L320.22,195.36 Z" fill="#fcf0e4" stroke="none" clip-path="url(#clipR1)"/>
<path d="M320.22,195.36 L320.33,195.66 L320.44,195.97 L320.56,196.27 L320.68,196.58 L320.81,196.89 L320.94,197.21 L321.08,197.52 L321.22,197.84 L321.37,198.16 L321.52,198.48 L321.68,198.81 L321.85,199.13 L322.02,199.46 L322.19,199.79 L322.38,200.12 L322.57,200.45 L322.76,200.79 L322.97,201.13 L323.18,201.47 L323.40,201.81 L323.62,202.15 L323.86,202.49 L324.10,202.84 L324.35,203.19 L324.62,203.54 L324.89,203.89 L325.17,204.25 L325.46,204.61 L325.76,204.97 L326.08,205.33 L326.40,205.69 L326.74,206.05 L327.09,206.42 L327.45,206.79 L327.83,207.16 L328.22,207.53 L328.62,207.91 L329.04,208.28 L329.47,208.66 L329.92,209.04 L330.39,209.42 L330.87,209.81 L331.37,210.20 L331.89,210.58 L332.43,210.97 L332.99,211.37 L333.57,211.76 L334.17,212.16 L334.79,212.55 L335.43,212.95 L336.10,213.36 L336.79,213.76 L337.51,214.17 L338.25,214.57 L339.03,214.98 L339.83,215.40 L340.65,215.81 L341.51,216.23 L342.40,216.64 L343.33,217.06 L344.29,217.48 L345.28,217.91 L346.31,218.33 L347.37,218.76 L348.48,219.19 L349.62,219.62 L350.81,220.06 L352.04,220.49 L353.32,220.93 L354.64,221.37 L356.01,221.81 L357.44,222.25 L358.91,222.70 L360.44,223.15 L362.02,223.59 L363.66,224.05 L365.37,224.50 L367.13,224.95 L368.96,225.41 L370.86,225.87 L372.82,226.33 L374.86,226.79 L376.97,227.26 L379.16,227.73 L381.43,228.19 L383.78,228.66 L386.22,229.14 L388.75,229.61 L391.37,230.09 L394.09,230.57 L396.91,231.05 L399.83,231.53 L402.85,232.01 L405.99,232.50 L409.24,232.99 L412.62,233.48 L416.11,233.97 L419.74,234.47 L423.49,234.96 L427.39,235.46 L431.42,235.96 L435.61,236.46 L439.94,236.97 L444.44,237.47 L449.10,237.98 L453.93,238.49 L458.94,239.00 L464.14,239.52 L469.52,240.03 L475.10,240.55 L480.88,241.07 L486.88,241.59 L493.10,242.12 L499.54,242.64 L506.22,243.17 L513.15,243.70 L520.32,244.23 L527.76,244.77 L535.48,245.30 L543.48,245.84 L543.48,255.07 L535.48,254.58 L527.76,254.09 L520.32,253.60 L513.15,253.11 L506.22,252.62 L499.54,252.14 L493.10,251.65 L486.88,251.17 L480.88,250.68 L475.10,250.20 L469.52,249.72 L464.14,249.24 L458.94,248.75 L453.93,248.28 L449.10,247.80 L444.44,247.32 L439.94,246.84 L435.61,246.37 L431.42,245.89 L427.39,245.42 L423.49,244.95 L419.74,244.47 L416.11,244.00 L412.62,243.53 L409.24,243.06 L405.99,242.59 L402.85,242.13 L399.83,241.66 L396.91,241.19 L394.09,240.73 L391.37,240.26 L388.75,239.80 L386.22,239.34 L383.78,238.88 L381.43,238.42 L379.16,237.96 L376.97,237.50 L374.86,237.04 L372.82,236.59 L370.86,236.13 L368.96,235.67 L367.13,235.22 L365.37,234.77 L363.66,234.32 L362.02,233.86 L360.44,233.41 L358.91,232.96 L357.44,232.52 L356.01,232.07 L354.64,231.62 L353.32,231.18 L352.04,230.73 L350.81,230.29 L349.62,229.84 L348.48,229.40 L347.37,228.96 L346.31,228.52 L345.28,228.08 L344.29,227.64 L343.33,227.20 L342.40,226.77 L341.51,226.33 L340.65,225.90 L339.83,225.46 L339.03,225.03 L338.25,224.60 L337.51,224.17 L336.79,223.74 L336.10,223.31 L335.43,222.88 L334.79,222.45 L334.17,222.02 L333.57,221.60 L332.99,221.17 L332.43,220.75 L331.89,220.33 L331.37,219.90 L330.87,219.48 L330.39,219.06 L329.92,218.64 L329.47,218.22 L329.04,217.81 L328.62,217.39 L328.22,216.97 L327.83,216.56 L327.45,216.14 L327.09,215.73 L326.74,215.32 L326.40,214.91 L326.08,214.50 L325.76,214.09 L325.46,213.68 L325.17,213.27 L324.89,212.87 L324.62,212.46 L324.35,212.05 L324.10,211.65 L323.86,211.25 L323.62,210.85 L323.40,210.44 L323.18,210.04 L322.97,209.64 L322.76,209.25 L322.57,208.85 L322.38,208.45 L322.19,208.05 L322.02,207.66 L321.85,207.27 L321.68,206.87 L321.52,206.48 L321.37,206.09 L321.22,205.70 L321.08,205.31 L320.94,204.92 L320.81,204.53 L320.68,204.15 L320.56,203.76 L320.44,203.38 L320.33,202.99 L320.22,202.61 Z" fill="#fbe3e6" stroke="none" clip-path="url(#clipR1)"/>
<line x1="332.28" y1="155.54" x2="332.28" y2="269.30" stroke="#000" stroke-opacity="0.09" stroke-width="0.6"/>
<line x1="347.37" y1="155.54" x2="347.37" y2="269.30" stroke="#000" stroke-opacity="0.09" stroke-width="0.6"/>
<line x1="362.45" y1="155.54" x2="362.45" y2="269.30" stroke="#000" stroke-opacity="0.09" stroke-width="0.6"/>
<line x1="377.54" y1="155.54" x2="377.54" y2="269.30" stroke="#000" stroke-opacity="0.09" stroke-width="0.6"/>
<line x1="392.62" y1="155.54" x2="392.62" y2="269.30" stroke="#000" stroke-opacity="0.09" stroke-width="0.6"/>
<line x1="407.71" y1="155.54" x2="407.71" y2="269.30" stroke="#000" stroke-opacity="0.09" stroke-width="0.6"/>
<line x1="422.79" y1="155.54" x2="422.79" y2="269.30" stroke="#000" stroke-opacity="0.09" stroke-width="0.6"/>
<line x1="437.88" y1="155.54" x2="437.88" y2="269.30" stroke="#000" stroke-opacity="0.09" stroke-width="0.6"/>
<line x1="452.96" y1="155.54" x2="452.96" y2="269.30" stroke="#000" stroke-opacity="0.09" stroke-width="0.6"/>
<line x1="468.05" y1="155.54" x2="468.05" y2="269.30" stroke="#000" stroke-opacity="0.09" stroke-width="0.6"/>
<line x1="483.13" y1="155.54" x2="483.13" y2="269.30" stroke="#000" stroke-opacity="0.09" stroke-width="0.6"/>
<line x1="498.22" y1="155.54" x2="498.22" y2="269.30" stroke="#000" stroke-opacity="0.09" stroke-width="0.6"/>
<line x1="513.30" y1="155.54" x2="513.30" y2="269.30" stroke="#000" stroke-opacity="0.09" stroke-width="0.6"/>
<line x1="528.39" y1="155.54" x2="528.39" y2="269.30" stroke="#000" stroke-opacity="0.09" stroke-width="0.6"/>
<line x1="317.2" y1="259.82" x2="543.48" y2="259.82" stroke="#000" stroke-opacity="0.09" stroke-width="0.6"/>
<line x1="317.2" y1="250.34" x2="543.48" y2="250.34" stroke="#000" stroke-opacity="0.09" stroke-width="0.6"/>
<line x1="317.2" y1="240.86" x2="543.48" y2="240.86" stroke="#000" stroke-opacity="0.09" stroke-width="0.6"/>
<line x1="317.2" y1="231.38" x2="543.48" y2="231.38" stroke="#000" stroke-opacity="0.09" stroke-width="0.6"/>
<line x1="317.2" y1="221.90" x2="543.48" y2="221.90" stroke="#000" stroke-opacity="0.09" stroke-width="0.6"/>
<line x1="317.2" y1="212.42" x2="543.48" y2="212.42" stroke="#000" stroke-opacity="0.09" stroke-width="0.6"/>
<line x1="317.2" y1="202.94" x2="543.48" y2="202.94" stroke="#000" stroke-opacity="0.09" stroke-width="0.6"/>
<line x1="317.2" y1="193.46" x2="543.48" y2="193.46" stroke="#000" stroke-opacity="0.09" stroke-width="0.6"/>
<line x1="317.2" y1="183.98" x2="543.48" y2="183.98" stroke="#000" stroke-opacity="0.09" stroke-width="0.6"/>
<line x1="317.2" y1="174.50" x2="543.48" y2="174.50" stroke="#000" stroke-opacity="0.09" stroke-width="0.6"/>
<line x1="317.2" y1="165.02" x2="543.48" y2="165.02" stroke="#000" stroke-opacity="0.09" stroke-width="0.6"/>
<path d="M320.22,160.28 L320.27,160.48 L320.40,160.97 L320.59,161.68 L320.85,162.54 L321.16,163.53 L321.53,164.60 L321.95,165.72 L322.42,166.88 L322.95,168.06 L323.52,169.24 L324.13,170.41 L324.80,171.58 L325.51,172.73 L326.26,173.86 L327.06,174.98 L327.91,176.08 L328.79,177.16 L329.72,178.23 L330.69,179.27 L331.71,180.30 L332.76,181.32 L333.86,182.32 L334.99,183.30 L336.17,184.28 L337.38,185.24 L338.64,186.19 L339.94,187.13 L341.27,188.06 L342.64,188.98 L344.05,189.89 L345.50,190.80 L346.99,191.70 L348.51,192.59 L350.08,193.48 L351.68,194.36 L353.31,195.24 L354.99,196.11 L356.70,196.99 L358.44,197.85 L360.22,198.72 L362.04,199.58 L363.90,200.44 L365.79,201.30 L367.71,202.16 L369.67,203.02 L371.67,203.88 L373.70,204.73 L375.76,205.59 L377.86,206.45 L380.00,207.31 L382.17,208.16 L384.37,209.02 L386.61,209.88 L388.88,210.75 L391.19,211.61 L393.53,212.47 L395.90,213.34 L398.31,214.21 L400.75,215.08 L403.22,215.95 L405.73,216.82 L408.27,217.70 L410.84,218.58 L413.45,219.46 L416.08,220.35 L418.75,221.24 L421.46,222.13 L424.19,223.02 L426.96,223.92 L429.76,224.82 L432.60,225.72 L435.46,226.63 L438.36,227.54 L441.29,228.46 L444.25,229.37 L447.24,230.30 L450.27,231.22 L453.32,232.15 L456.41,233.08 L459.53,234.02 L462.68,234.96 L465.86,235.91 L469.07,236.86 L472.32,237.81 L475.59,238.77 L478.90,239.73 L482.23,240.69 L485.60,241.67 L489.00,242.64 L492.43,243.62 L495.89,244.60 L499.38,245.59 L502.90,246.58 L506.45,247.58 L510.03,248.58 L513.64,249.59 L517.28,250.60 L520.96,251.61 L524.66,252.63 L528.39,253.66" fill="none" stroke="#c9b9b9" stroke-width="0.6"/>
<path d="M320.22,160.28 L320.26,160.46 L320.37,160.90 L320.54,161.53 L320.76,162.31 L321.03,163.21 L321.34,164.20 L321.70,165.24 L322.10,166.32 L322.55,167.43 L323.04,168.55 L323.57,169.68 L324.13,170.80 L324.74,171.91 L325.39,173.02 L326.07,174.10 L326.79,175.18 L327.55,176.24 L328.34,177.29 L329.17,178.32 L330.04,179.33 L330.94,180.33 L331.88,181.32 L332.85,182.30 L333.86,183.26 L334.90,184.21 L335.97,185.16 L337.08,186.09 L338.22,187.01 L339.39,187.92 L340.60,188.83 L341.84,189.73 L343.11,190.62 L344.41,191.51 L345.75,192.39 L347.12,193.26 L348.52,194.13 L349.95,195.00 L351.41,195.86 L352.90,196.72 L354.43,197.58 L355.98,198.43 L357.57,199.28 L359.18,200.13 L360.83,200.98 L362.50,201.83 L364.21,202.68 L365.95,203.52 L367.71,204.37 L369.51,205.21 L371.33,206.06 L373.19,206.90 L375.07,207.75 L376.99,208.60 L378.93,209.44 L380.90,210.29 L382.90,211.14 L384.93,211.99 L386.99,212.84 L389.08,213.70 L391.19,214.55 L393.33,215.41 L395.51,216.27 L397.71,217.13 L399.93,218.00 L402.19,218.86 L404.47,219.73 L406.79,220.61 L409.13,221.48 L411.49,222.36 L413.89,223.24 L416.31,224.12 L418.76,225.01 L421.24,225.90 L423.74,226.79 L426.27,227.68 L428.83,228.58 L431.42,229.48 L434.03,230.39 L436.67,231.30 L439.34,232.21 L442.03,233.13 L444.75,234.05 L447.50,234.97 L450.27,235.90 L453.07,236.83 L455.90,237.77 L458.75,238.71 L461.63,239.65 L464.54,240.60 L467.47,241.55 L470.43,242.50 L473.41,243.46 L476.42,244.43 L479.46,245.39 L482.52,246.36 L485.61,247.34 L488.72,248.32 L491.86,249.31 L495.03,250.29 L498.22,251.29" fill="none" stroke="#2a2a2a" stroke-width="1.05" />
<circle cx="320.22" cy="160.28" r="1.3" fill="#111"/>
<path d="M320.22,174.50 L320.24,174.58 L320.29,174.79 L320.37,175.09 L320.48,175.48 L320.60,175.94 L320.75,176.46 L320.92,177.03 L321.12,177.64 L321.33,178.29 L321.56,178.96 L321.81,179.66 L322.08,180.37 L322.37,181.10 L322.68,181.83 L323.00,182.58 L323.35,183.32 L323.71,184.07 L324.09,184.81 L324.48,185.56 L324.90,186.30 L325.33,187.04 L325.77,187.78 L326.23,188.52 L326.71,189.25 L327.21,189.97 L327.72,190.70 L328.25,191.41 L328.79,192.13 L329.35,192.84 L329.92,193.54 L330.51,194.24 L331.12,194.94 L331.74,195.64 L332.38,196.33 L333.03,197.02 L333.70,197.70 L334.38,198.38 L335.07,199.06 L335.78,199.74 L336.51,200.41 L337.25,201.08 L338.01,201.76 L338.77,202.42 L339.56,203.09 L340.36,203.76 L341.17,204.42 L342.00,205.08 L342.84,205.75 L343.69,206.41 L344.56,207.07 L345.45,207.73 L346.34,208.39 L347.26,209.05 L348.18,209.71 L349.12,210.37 L350.07,211.03 L351.04,211.69 L352.02,212.35 L353.01,213.01 L354.02,213.67 L355.04,214.33 L356.08,214.99 L357.12,215.65 L358.18,216.32 L359.26,216.98 L360.35,217.65 L361.45,218.32 L362.56,218.99 L363.69,219.65 L364.83,220.33 L365.98,221.00 L367.15,221.67 L368.33,222.35 L369.52,223.02 L370.73,223.70 L371.95,224.38 L373.18,225.06 L374.42,225.75 L375.68,226.43 L376.95,227.12 L378.23,227.81 L379.53,228.50 L380.84,229.20 L382.16,229.89 L383.49,230.59 L384.84,231.29 L386.20,231.99 L387.57,232.70 L388.95,233.40 L390.35,234.11 L391.76,234.82 L393.18,235.54 L394.61,236.25 L396.06,236.97 L397.52,237.69 L398.99,238.42 L400.47,239.14 L401.97,239.87 L403.47,240.60 L404.99,241.33" fill="none" stroke="#2a2a2a" stroke-width="1.05" stroke-dasharray="4,1.6,1,1.6"/>
<circle cx="320.22" cy="174.50" r="1.3" fill="#111"/>
<path d="M320.22,183.51 L320.23,183.55 L320.26,183.64 L320.30,183.79 L320.36,183.97 L320.43,184.20 L320.51,184.46 L320.60,184.75 L320.71,185.06 L320.83,185.41 L320.95,185.77 L321.09,186.15 L321.24,186.55 L321.40,186.97 L321.57,187.39 L321.74,187.83 L321.93,188.28 L322.13,188.74 L322.34,189.21 L322.56,189.68 L322.78,190.15 L323.02,190.64 L323.26,191.12 L323.51,191.61 L323.78,192.10 L324.05,192.60 L324.33,193.10 L324.62,193.59 L324.92,194.10 L325.22,194.60 L325.54,195.10 L325.86,195.60 L326.19,196.11 L326.53,196.61 L326.88,197.12 L327.24,197.63 L327.60,198.14 L327.98,198.64 L328.36,199.15 L328.75,199.66 L329.15,200.17 L329.55,200.68 L329.97,201.19 L330.39,201.71 L330.82,202.22 L331.25,202.73 L331.70,203.25 L332.15,203.76 L332.61,204.28 L333.08,204.79 L333.56,205.31 L334.04,205.83 L334.54,206.35 L335.04,206.87 L335.54,207.39 L336.06,207.92 L336.58,208.44 L337.11,208.97 L337.65,209.49 L338.19,210.02 L338.74,210.55 L339.30,211.08 L339.87,211.62 L340.44,212.15 L341.02,212.69 L341.61,213.22 L342.21,213.76 L342.81,214.30 L343.42,214.85 L344.04,215.39 L344.67,215.93 L345.30,216.48 L345.94,217.03 L346.58,217.58 L347.24,218.14 L347.90,218.69 L348.57,219.25 L349.24,219.81 L349.92,220.37 L350.61,220.93 L351.31,221.50 L352.01,222.07 L352.72,222.64 L353.44,223.21 L354.16,223.78 L354.89,224.36 L355.63,224.94 L356.38,225.52 L357.13,226.10 L357.89,226.68 L358.65,227.27 L359.42,227.86 L360.20,228.45 L360.99,229.05 L361.78,229.64 L362.58,230.24 L363.39,230.85 L364.20,231.45 L365.02,232.06 L365.85,232.66 L366.68,233.28" fill="none" stroke="#2a2a2a" stroke-width="1.05" stroke-dasharray="3.2,2"/>
<circle cx="320.22" cy="183.51" r="1.3" fill="#111"/>
<path d="M320.22,192.75 L320.22,192.76 L320.23,192.79 L320.24,192.84 L320.25,192.89 L320.27,192.97 L320.29,193.05 L320.32,193.14 L320.34,193.25 L320.38,193.37 L320.41,193.49 L320.44,193.63 L320.48,193.77 L320.52,193.93 L320.57,194.09 L320.61,194.26 L320.66,194.43 L320.71,194.62 L320.77,194.81 L320.82,195.00 L320.88,195.21 L320.94,195.41 L321.01,195.63 L321.07,195.85 L321.14,196.07 L321.21,196.30 L321.29,196.53 L321.36,196.77 L321.44,197.01 L321.52,197.26 L321.60,197.51 L321.68,197.76 L321.77,198.01 L321.86,198.27 L321.95,198.53 L322.04,198.80 L322.14,199.06 L322.23,199.33 L322.33,199.60 L322.43,199.88 L322.54,200.15 L322.64,200.43 L322.75,200.71 L322.86,200.99 L322.97,201.28 L323.08,201.56 L323.20,201.85 L323.32,202.13 L323.44,202.42 L323.56,202.71 L323.68,203.01 L323.81,203.30 L323.94,203.59 L324.07,203.89 L324.20,204.19 L324.33,204.48 L324.47,204.78 L324.60,205.08 L324.74,205.38 L324.89,205.69 L325.03,205.99 L325.17,206.29 L325.32,206.60 L325.47,206.90 L325.62,207.21 L325.77,207.52 L325.93,207.82 L326.09,208.13 L326.24,208.44 L326.41,208.75 L326.57,209.06 L326.73,209.37 L326.90,209.69 L327.07,210.00 L327.24,210.31 L327.41,210.63 L327.58,210.94 L327.76,211.26 L327.93,211.58 L328.11,211.89 L328.29,212.21 L328.48,212.53 L328.66,212.85 L328.85,213.17 L329.03,213.49 L329.22,213.81 L329.42,214.14 L329.61,214.46 L329.80,214.78 L330.00,215.11 L330.20,215.43 L330.40,215.76 L330.60,216.08 L330.81,216.41 L331.01,216.74 L331.22,217.07 L331.43,217.40 L331.64,217.73 L331.85,218.06 L332.07,218.39 L332.28,218.72" fill="none" stroke="#2a2a2a" stroke-width="1.05" stroke-dasharray="2,1.4,0.8,1.4"/>
<circle cx="320.22" cy="192.75" r="1.3" fill="#111"/>
<rect x="317.2" y="155.54" width="226.28" height="113.76" fill="none" stroke="#6e6e6e" stroke-width="0.8"/>
<line x1="317.20" y1="269.30" x2="317.20" y2="266.90" stroke="#6e6e6e" stroke-width="0.8"/>
<line x1="317.20" y1="155.54" x2="317.20" y2="157.94" stroke="#6e6e6e" stroke-width="0.8"/>
<text x="317.20" y="281.30" font-size="9.2" text-anchor="middle" fill="#1e1e1e" stroke="#1e1e1e" stroke-width="0.2" >0</text>
<line x1="332.28" y1="269.30" x2="332.28" y2="266.90" stroke="#6e6e6e" stroke-width="0.8"/>
<line x1="332.28" y1="155.54" x2="332.28" y2="157.94" stroke="#6e6e6e" stroke-width="0.8"/>
<text x="332.28" y="281.30" font-size="9.2" text-anchor="middle" fill="#1e1e1e" stroke="#1e1e1e" stroke-width="0.2" >5</text>
<line x1="347.37" y1="269.30" x2="347.37" y2="266.90" stroke="#6e6e6e" stroke-width="0.8"/>
<line x1="347.37" y1="155.54" x2="347.37" y2="157.94" stroke="#6e6e6e" stroke-width="0.8"/>
<text x="347.37" y="281.30" font-size="9.2" text-anchor="middle" fill="#1e1e1e" stroke="#1e1e1e" stroke-width="0.2" >10</text>
<line x1="362.45" y1="269.30" x2="362.45" y2="266.90" stroke="#6e6e6e" stroke-width="0.8"/>
<line x1="362.45" y1="155.54" x2="362.45" y2="157.94" stroke="#6e6e6e" stroke-width="0.8"/>
<text x="362.45" y="281.30" font-size="9.2" text-anchor="middle" fill="#1e1e1e" stroke="#1e1e1e" stroke-width="0.2" >15</text>
<line x1="377.54" y1="269.30" x2="377.54" y2="266.90" stroke="#6e6e6e" stroke-width="0.8"/>
<line x1="377.54" y1="155.54" x2="377.54" y2="157.94" stroke="#6e6e6e" stroke-width="0.8"/>
<text x="377.54" y="281.30" font-size="9.2" text-anchor="middle" fill="#1e1e1e" stroke="#1e1e1e" stroke-width="0.2" >20</text>
<line x1="392.62" y1="269.30" x2="392.62" y2="266.90" stroke="#6e6e6e" stroke-width="0.8"/>
<line x1="392.62" y1="155.54" x2="392.62" y2="157.94" stroke="#6e6e6e" stroke-width="0.8"/>
<text x="392.62" y="281.30" font-size="9.2" text-anchor="middle" fill="#1e1e1e" stroke="#1e1e1e" stroke-width="0.2" >25</text>
<line x1="407.71" y1="269.30" x2="407.71" y2="266.90" stroke="#6e6e6e" stroke-width="0.8"/>
<line x1="407.71" y1="155.54" x2="407.71" y2="157.94" stroke="#6e6e6e" stroke-width="0.8"/>
<text x="407.71" y="281.30" font-size="9.2" text-anchor="middle" fill="#1e1e1e" stroke="#1e1e1e" stroke-width="0.2" >30</text>
<line x1="422.79" y1="269.30" x2="422.79" y2="266.90" stroke="#6e6e6e" stroke-width="0.8"/>
<line x1="422.79" y1="155.54" x2="422.79" y2="157.94" stroke="#6e6e6e" stroke-width="0.8"/>
<text x="422.79" y="281.30" font-size="9.2" text-anchor="middle" fill="#1e1e1e" stroke="#1e1e1e" stroke-width="0.2" >35</text>
<line x1="437.88" y1="269.30" x2="437.88" y2="266.90" stroke="#6e6e6e" stroke-width="0.8"/>
<line x1="437.88" y1="155.54" x2="437.88" y2="157.94" stroke="#6e6e6e" stroke-width="0.8"/>
<text x="437.88" y="281.30" font-size="9.2" text-anchor="middle" fill="#1e1e1e" stroke="#1e1e1e" stroke-width="0.2" >40</text>
<line x1="452.96" y1="269.30" x2="452.96" y2="266.90" stroke="#6e6e6e" stroke-width="0.8"/>
<line x1="452.96" y1="155.54" x2="452.96" y2="157.94" stroke="#6e6e6e" stroke-width="0.8"/>
<text x="452.96" y="281.30" font-size="9.2" text-anchor="middle" fill="#1e1e1e" stroke="#1e1e1e" stroke-width="0.2" >45</text>
<line x1="468.05" y1="269.30" x2="468.05" y2="266.90" stroke="#6e6e6e" stroke-width="0.8"/>
<line x1="468.05" y1="155.54" x2="468.05" y2="157.94" stroke="#6e6e6e" stroke-width="0.8"/>
<text x="468.05" y="281.30" font-size="9.2" text-anchor="middle" fill="#1e1e1e" stroke="#1e1e1e" stroke-width="0.2" >50</text>
<line x1="483.13" y1="269.30" x2="483.13" y2="266.90" stroke="#6e6e6e" stroke-width="0.8"/>
<line x1="483.13" y1="155.54" x2="483.13" y2="157.94" stroke="#6e6e6e" stroke-width="0.8"/>
<text x="483.13" y="281.30" font-size="9.2" text-anchor="middle" fill="#1e1e1e" stroke="#1e1e1e" stroke-width="0.2" >55</text>
<line x1="498.22" y1="269.30" x2="498.22" y2="266.90" stroke="#6e6e6e" stroke-width="0.8"/>
<line x1="498.22" y1="155.54" x2="498.22" y2="157.94" stroke="#6e6e6e" stroke-width="0.8"/>
<text x="498.22" y="281.30" font-size="9.2" text-anchor="middle" fill="#1e1e1e" stroke="#1e1e1e" stroke-width="0.2" >60</text>
<line x1="513.30" y1="269.30" x2="513.30" y2="266.90" stroke="#6e6e6e" stroke-width="0.8"/>
<line x1="513.30" y1="155.54" x2="513.30" y2="157.94" stroke="#6e6e6e" stroke-width="0.8"/>
<text x="513.30" y="281.30" font-size="9.2" text-anchor="middle" fill="#1e1e1e" stroke="#1e1e1e" stroke-width="0.2" >65</text>
<line x1="528.39" y1="269.30" x2="528.39" y2="266.90" stroke="#6e6e6e" stroke-width="0.8"/>
<line x1="528.39" y1="155.54" x2="528.39" y2="157.94" stroke="#6e6e6e" stroke-width="0.8"/>
<text x="528.39" y="281.30" font-size="9.2" text-anchor="middle" fill="#1e1e1e" stroke="#1e1e1e" stroke-width="0.2" >70</text>
<line x1="543.48" y1="269.30" x2="543.48" y2="266.90" stroke="#6e6e6e" stroke-width="0.8"/>
<line x1="543.48" y1="155.54" x2="543.48" y2="157.94" stroke="#6e6e6e" stroke-width="0.8"/>
<text x="543.48" y="281.30" font-size="9.2" text-anchor="middle" fill="#1e1e1e" stroke="#1e1e1e" stroke-width="0.2" >75</text>
<line x1="317.2" y1="269.30" x2="319.59999999999997" y2="269.30" stroke="#6e6e6e" stroke-width="0.8"/>
<line x1="543.48" y1="269.30" x2="541.08" y2="269.30" stroke="#6e6e6e" stroke-width="0.8"/>
<text x="314.00" y="271.50" font-size="9.4" text-anchor="end" fill="#1e1e1e" stroke="#1e1e1e" stroke-width="0.2" >2.7</text>
<line x1="317.2" y1="259.82" x2="319.59999999999997" y2="259.82" stroke="#6e6e6e" stroke-width="0.8"/>
<line x1="543.48" y1="259.82" x2="541.08" y2="259.82" stroke="#6e6e6e" stroke-width="0.8"/>
<text x="314.00" y="262.02" font-size="9.4" text-anchor="end" fill="#1e1e1e" stroke="#1e1e1e" stroke-width="0.2" >2.9</text>
<line x1="317.2" y1="250.34" x2="319.59999999999997" y2="250.34" stroke="#6e6e6e" stroke-width="0.8"/>
<line x1="543.48" y1="250.34" x2="541.08" y2="250.34" stroke="#6e6e6e" stroke-width="0.8"/>
<text x="314.00" y="252.54" font-size="9.4" text-anchor="end" fill="#1e1e1e" stroke="#1e1e1e" stroke-width="0.2" >3.1</text>
<line x1="317.2" y1="240.86" x2="319.59999999999997" y2="240.86" stroke="#6e6e6e" stroke-width="0.8"/>
<line x1="543.48" y1="240.86" x2="541.08" y2="240.86" stroke="#6e6e6e" stroke-width="0.8"/>
<text x="314.00" y="243.06" font-size="9.4" text-anchor="end" fill="#1e1e1e" stroke="#1e1e1e" stroke-width="0.2" >3.3</text>
<line x1="317.2" y1="231.38" x2="319.59999999999997" y2="231.38" stroke="#6e6e6e" stroke-width="0.8"/>
<line x1="543.48" y1="231.38" x2="541.08" y2="231.38" stroke="#6e6e6e" stroke-width="0.8"/>
<text x="314.00" y="233.58" font-size="9.4" text-anchor="end" fill="#1e1e1e" stroke="#1e1e1e" stroke-width="0.2" >3.5</text>
<line x1="317.2" y1="221.90" x2="319.59999999999997" y2="221.90" stroke="#6e6e6e" stroke-width="0.8"/>
<line x1="543.48" y1="221.90" x2="541.08" y2="221.90" stroke="#6e6e6e" stroke-width="0.8"/>
<text x="314.00" y="224.10" font-size="9.4" text-anchor="end" fill="#1e1e1e" stroke="#1e1e1e" stroke-width="0.2" >3.7</text>
<line x1="317.2" y1="212.42" x2="319.59999999999997" y2="212.42" stroke="#6e6e6e" stroke-width="0.8"/>
<line x1="543.48" y1="212.42" x2="541.08" y2="212.42" stroke="#6e6e6e" stroke-width="0.8"/>
<text x="314.00" y="214.62" font-size="9.4" text-anchor="end" fill="#1e1e1e" stroke="#1e1e1e" stroke-width="0.2" >3.9</text>
<line x1="317.2" y1="202.94" x2="319.59999999999997" y2="202.94" stroke="#6e6e6e" stroke-width="0.8"/>
<line x1="543.48" y1="202.94" x2="541.08" y2="202.94" stroke="#6e6e6e" stroke-width="0.8"/>
<text x="314.00" y="205.14" font-size="9.4" text-anchor="end" fill="#1e1e1e" stroke="#1e1e1e" stroke-width="0.2" >4.1</text>
<line x1="317.2" y1="193.46" x2="319.59999999999997" y2="193.46" stroke="#6e6e6e" stroke-width="0.8"/>
<line x1="543.48" y1="193.46" x2="541.08" y2="193.46" stroke="#6e6e6e" stroke-width="0.8"/>
<text x="314.00" y="195.66" font-size="9.4" text-anchor="end" fill="#1e1e1e" stroke="#1e1e1e" stroke-width="0.2" >4.3</text>
<line x1="317.2" y1="183.98" x2="319.59999999999997" y2="183.98" stroke="#6e6e6e" stroke-width="0.8"/>
<line x1="543.48" y1="183.98" x2="541.08" y2="183.98" stroke="#6e6e6e" stroke-width="0.8"/>
<text x="314.00" y="186.18" font-size="9.4" text-anchor="end" fill="#1e1e1e" stroke="#1e1e1e" stroke-width="0.2" >4.5</text>
<line x1="317.2" y1="174.50" x2="319.59999999999997" y2="174.50" stroke="#6e6e6e" stroke-width="0.8"/>
<line x1="543.48" y1="174.50" x2="541.08" y2="174.50" stroke="#6e6e6e" stroke-width="0.8"/>
<text x="314.00" y="176.70" font-size="9.4" text-anchor="end" fill="#1e1e1e" stroke="#1e1e1e" stroke-width="0.2" >4.7</text>
<line x1="317.2" y1="165.02" x2="319.59999999999997" y2="165.02" stroke="#6e6e6e" stroke-width="0.8"/>
<line x1="543.48" y1="165.02" x2="541.08" y2="165.02" stroke="#6e6e6e" stroke-width="0.8"/>
<text x="314.00" y="167.22" font-size="9.4" text-anchor="end" fill="#1e1e1e" stroke="#1e1e1e" stroke-width="0.2" >4.9</text>
<line x1="317.2" y1="155.54" x2="319.59999999999997" y2="155.54" stroke="#6e6e6e" stroke-width="0.8"/>
<line x1="543.48" y1="155.54" x2="541.08" y2="155.54" stroke="#6e6e6e" stroke-width="0.8"/>
<text x="314.00" y="157.74" font-size="9.4" text-anchor="end" fill="#1e1e1e" stroke="#1e1e1e" stroke-width="0.2" >5.1</text>
<text x="428.50" y="295.80" font-size="10.8" text-anchor="middle" fill="#1a1a1a" stroke="#1a1a1a" stroke-width="0.25" >Technical Lifetime [Years]</text>
<text transform="translate(295.0,211.82) rotate(-90)" font-size="10.6" text-anchor="middle" fill="#333"><tspan font-family='"Liberation Sans", sans-serif'>Reliability Index </tspan><tspan font-style="italic" dx="4.6">β</tspan></text>
<clipPath id="clipR2"><rect x="317.2" y="303.84" width="226.28" height="113.76"/></clipPath>
<path d="M320.22,314.05 L320.33,314.19 L320.44,314.33 L320.56,314.47 L320.68,314.62 L320.81,314.76 L320.94,314.91 L321.08,315.07 L321.22,315.22 L321.37,315.38 L321.52,315.55 L321.68,315.71 L321.85,315.88 L322.02,316.05 L322.19,316.23 L322.38,316.40 L322.57,316.59 L322.76,316.77 L322.97,316.96 L323.18,317.15 L323.40,317.34 L323.62,317.53 L323.86,317.73 L324.10,317.93 L324.35,318.14 L324.62,318.35 L324.89,318.56 L325.17,318.77 L325.46,318.99 L325.76,319.21 L326.08,319.43 L326.40,319.65 L326.74,319.88 L327.09,320.11 L327.45,320.35 L327.83,320.59 L328.22,320.83 L328.62,321.07 L329.04,321.32 L329.47,321.57 L329.92,321.82 L330.39,322.07 L330.87,322.33 L331.37,322.59 L331.89,322.86 L332.43,323.13 L332.99,323.40 L333.57,323.67 L334.17,323.95 L334.79,324.23 L335.43,324.51 L336.10,324.79 L336.79,325.08 L337.51,325.37 L338.25,325.67 L339.03,325.97 L339.83,326.27 L340.65,326.57 L341.51,326.88 L342.40,327.19 L343.33,327.50 L344.29,327.81 L345.28,328.13 L346.31,328.45 L347.37,328.78 L348.48,329.10 L349.62,329.43 L350.81,329.77 L352.04,330.10 L353.32,330.44 L354.64,330.79 L356.01,331.13 L357.44,331.48 L358.91,331.83 L360.44,332.19 L362.02,332.54 L363.66,332.90 L365.37,333.27 L367.13,333.63 L368.96,334.00 L370.86,334.37 L372.82,334.75 L374.86,335.13 L376.97,335.51 L379.16,335.89 L381.43,336.28 L383.78,336.67 L386.22,337.06 L388.75,337.46 L391.37,337.86 L394.09,338.26 L396.91,338.67 L399.83,339.07 L402.85,339.49 L405.99,339.90 L409.24,340.32 L412.62,340.74 L416.11,341.16 L419.74,341.59 L423.49,342.02 L427.39,342.45 L431.42,342.88 L435.61,343.32 L439.94,343.76 L444.44,344.21 L449.10,344.65 L453.93,345.10 L458.94,345.56 L464.14,346.01 L469.52,346.47 L475.10,346.93 L480.88,347.40 L486.88,347.87 L493.10,348.34 L499.54,348.81 L506.22,349.29 L513.15,349.77 L520.32,350.25 L527.76,350.74 L535.48,351.23 L543.48,351.72 L543.48,370.18 L535.48,369.78 L527.76,369.38 L520.32,368.98 L513.15,368.58 L506.22,368.18 L499.54,367.78 L493.10,367.38 L486.88,366.98 L480.88,366.57 L475.10,366.17 L469.52,365.77 L464.14,365.37 L458.94,364.97 L453.93,364.57 L449.10,364.17 L444.44,363.77 L439.94,363.37 L435.61,362.97 L431.42,362.57 L427.39,362.17 L423.49,361.77 L419.74,361.36 L416.11,360.96 L412.62,360.56 L409.24,360.16 L405.99,359.76 L402.85,359.36 L399.83,358.96 L396.91,358.56 L394.09,358.16 L391.37,357.76 L388.75,357.36 L386.22,356.96 L383.78,356.56 L381.43,356.15 L379.16,355.75 L376.97,355.35 L374.86,354.95 L372.82,354.55 L370.86,354.15 L368.96,353.75 L367.13,353.35 L365.37,352.95 L363.66,352.55 L362.02,352.15 L360.44,351.75 L358.91,351.35 L357.44,350.94 L356.01,350.54 L354.64,350.14 L353.32,349.74 L352.04,349.34 L350.81,348.94 L349.62,348.54 L348.48,348.14 L347.37,347.74 L346.31,347.34 L345.28,346.94 L344.29,346.54 L343.33,346.14 L342.40,345.73 L341.51,345.33 L340.65,344.93 L339.83,344.53 L339.03,344.13 L338.25,343.73 L337.51,343.33 L336.79,342.93 L336.10,342.53 L335.43,342.13 L334.79,341.73 L334.17,341.33 L333.57,340.93 L332.99,340.52 L332.43,340.12 L331.89,339.72 L331.37,339.32 L330.87,338.92 L330.39,338.52 L329.92,338.12 L329.47,337.72 L329.04,337.32 L328.62,336.92 L328.22,336.52 L327.83,336.12 L327.45,335.72 L327.09,335.31 L326.74,334.91 L326.40,334.51 L326.08,334.11 L325.76,333.71 L325.46,333.31 L325.17,332.91 L324.89,332.51 L324.62,332.11 L324.35,331.71 L324.10,331.31 L323.86,330.91 L323.62,330.51 L323.40,330.10 L323.18,329.70 L322.97,329.30 L322.76,328.90 L322.57,328.50 L322.38,328.10 L322.19,327.70 L322.02,327.30 L321.85,326.90 L321.68,326.50 L321.52,326.10 L321.37,325.70 L321.22,325.30 L321.08,324.89 L320.94,324.49 L320.81,324.09 L320.68,323.69 L320.56,323.29 L320.44,322.89 L320.33,322.49 L320.22,322.09 Z" fill="#e2f2ec" stroke="none" clip-path="url(#clipR2)"/>
<path d="M320.22,322.09 L320.33,322.49 L320.44,322.89 L320.56,323.29 L320.68,323.69 L320.81,324.09 L320.94,324.49 L321.08,324.89 L321.22,325.30 L321.37,325.70 L321.52,326.10 L321.68,326.50 L321.85,326.90 L322.02,327.30 L322.19,327.70 L322.38,328.10 L322.57,328.50 L322.76,328.90 L322.97,329.30 L323.18,329.70 L323.40,330.10 L323.62,330.51 L323.86,330.91 L324.10,331.31 L324.35,331.71 L324.62,332.11 L324.89,332.51 L325.17,332.91 L325.46,333.31 L325.76,333.71 L326.08,334.11 L326.40,334.51 L326.74,334.91 L327.09,335.31 L327.45,335.72 L327.83,336.12 L328.22,336.52 L328.62,336.92 L329.04,337.32 L329.47,337.72 L329.92,338.12 L330.39,338.52 L330.87,338.92 L331.37,339.32 L331.89,339.72 L332.43,340.12 L332.99,340.52 L333.57,340.93 L334.17,341.33 L334.79,341.73 L335.43,342.13 L336.10,342.53 L336.79,342.93 L337.51,343.33 L338.25,343.73 L339.03,344.13 L339.83,344.53 L340.65,344.93 L341.51,345.33 L342.40,345.73 L343.33,346.14 L344.29,346.54 L345.28,346.94 L346.31,347.34 L347.37,347.74 L348.48,348.14 L349.62,348.54 L350.81,348.94 L352.04,349.34 L353.32,349.74 L354.64,350.14 L356.01,350.54 L357.44,350.94 L358.91,351.35 L360.44,351.75 L362.02,352.15 L363.66,352.55 L365.37,352.95 L367.13,353.35 L368.96,353.75 L370.86,354.15 L372.82,354.55 L374.86,354.95 L376.97,355.35 L379.16,355.75 L381.43,356.15 L383.78,356.56 L386.22,356.96 L388.75,357.36 L391.37,357.76 L394.09,358.16 L396.91,358.56 L399.83,358.96 L402.85,359.36 L405.99,359.76 L409.24,360.16 L412.62,360.56 L416.11,360.96 L419.74,361.36 L423.49,361.77 L427.39,362.17 L431.42,362.57 L435.61,362.97 L439.94,363.37 L444.44,363.77 L449.10,364.17 L453.93,364.57 L458.94,364.97 L464.14,365.37 L469.52,365.77 L475.10,366.17 L480.88,366.57 L486.88,366.98 L493.10,367.38 L499.54,367.78 L506.22,368.18 L513.15,368.58 L520.32,368.98 L527.76,369.38 L535.48,369.78 L543.48,370.18 L543.48,378.54 L535.48,378.31 L527.76,378.08 L520.32,377.85 L513.15,377.61 L506.22,377.38 L499.54,377.14 L493.10,376.91 L486.88,376.67 L480.88,376.42 L475.10,376.18 L469.52,375.94 L464.14,375.69 L458.94,375.44 L453.93,375.19 L449.10,374.94 L444.44,374.69 L439.94,374.43 L435.61,374.18 L431.42,373.92 L427.39,373.66 L423.49,373.40 L419.74,373.14 L416.11,372.87 L412.62,372.60 L409.24,372.34 L405.99,372.07 L402.85,371.80 L399.83,371.52 L396.91,371.25 L394.09,370.97 L391.37,370.70 L388.75,370.42 L386.22,370.14 L383.78,369.85 L381.43,369.57 L379.16,369.28 L376.97,369.00 L374.86,368.71 L372.82,368.42 L370.86,368.12 L368.96,367.83 L367.13,367.53 L365.37,367.24 L363.66,366.94 L362.02,366.64 L360.44,366.33 L358.91,366.03 L357.44,365.72 L356.01,365.42 L354.64,365.11 L353.32,364.80 L352.04,364.49 L350.81,364.17 L349.62,363.86 L348.48,363.54 L347.37,363.22 L346.31,362.90 L345.28,362.58 L344.29,362.25 L343.33,361.93 L342.40,361.60 L341.51,361.27 L340.65,360.94 L339.83,360.61 L339.03,360.28 L338.25,359.94 L337.51,359.61 L336.79,359.27 L336.10,358.93 L335.43,358.58 L334.79,358.24 L334.17,357.90 L333.57,357.55 L332.99,357.20 L332.43,356.85 L331.89,356.50 L331.37,356.15 L330.87,355.79 L330.39,355.43 L329.92,355.08 L329.47,354.72 L329.04,354.36 L328.62,353.99 L328.22,353.63 L327.83,353.26 L327.45,352.89 L327.09,352.52 L326.74,352.15 L326.40,351.78 L326.08,351.40 L325.76,351.03 L325.46,350.65 L325.17,350.27 L324.89,349.89 L324.62,349.51 L324.35,349.12 L324.10,348.74 L323.86,348.35 L323.62,347.96 L323.40,347.57 L323.18,347.17 L322.97,346.78 L322.76,346.38 L322.57,345.99 L322.38,345.59 L322.19,345.19 L322.02,344.78 L321.85,344.38 L321.68,343.97 L321.52,343.57 L321.37,343.16 L321.22,342.75 L321.08,342.33 L320.94,341.92 L320.81,341.50 L320.68,341.09 L320.56,340.67 L320.44,340.25 L320.33,339.82 L320.22,339.40 Z" fill="#fdfbe0" stroke="none" clip-path="url(#clipR2)"/>
<path d="M320.22,339.40 L320.33,339.82 L320.44,340.25 L320.56,340.67 L320.68,341.09 L320.81,341.50 L320.94,341.92 L321.08,342.33 L321.22,342.75 L321.37,343.16 L321.52,343.57 L321.68,343.97 L321.85,344.38 L322.02,344.78 L322.19,345.19 L322.38,345.59 L322.57,345.99 L322.76,346.38 L322.97,346.78 L323.18,347.17 L323.40,347.57 L323.62,347.96 L323.86,348.35 L324.10,348.74 L324.35,349.12 L324.62,349.51 L324.89,349.89 L325.17,350.27 L325.46,350.65 L325.76,351.03 L326.08,351.40 L326.40,351.78 L326.74,352.15 L327.09,352.52 L327.45,352.89 L327.83,353.26 L328.22,353.63 L328.62,353.99 L329.04,354.36 L329.47,354.72 L329.92,355.08 L330.39,355.43 L330.87,355.79 L331.37,356.15 L331.89,356.50 L332.43,356.85 L332.99,357.20 L333.57,357.55 L334.17,357.90 L334.79,358.24 L335.43,358.58 L336.10,358.93 L336.79,359.27 L337.51,359.61 L338.25,359.94 L339.03,360.28 L339.83,360.61 L340.65,360.94 L341.51,361.27 L342.40,361.60 L343.33,361.93 L344.29,362.25 L345.28,362.58 L346.31,362.90 L347.37,363.22 L348.48,363.54 L349.62,363.86 L350.81,364.17 L352.04,364.49 L353.32,364.80 L354.64,365.11 L356.01,365.42 L357.44,365.72 L358.91,366.03 L360.44,366.33 L362.02,366.64 L363.66,366.94 L365.37,367.24 L367.13,367.53 L368.96,367.83 L370.86,368.12 L372.82,368.42 L374.86,368.71 L376.97,369.00 L379.16,369.28 L381.43,369.57 L383.78,369.85 L386.22,370.14 L388.75,370.42 L391.37,370.70 L394.09,370.97 L396.91,371.25 L399.83,371.52 L402.85,371.80 L405.99,372.07 L409.24,372.34 L412.62,372.60 L416.11,372.87 L419.74,373.14 L423.49,373.40 L427.39,373.66 L431.42,373.92 L435.61,374.18 L439.94,374.43 L444.44,374.69 L449.10,374.94 L453.93,375.19 L458.94,375.44 L464.14,375.69 L469.52,375.94 L475.10,376.18 L480.88,376.42 L486.88,376.67 L493.10,376.91 L499.54,377.14 L506.22,377.38 L513.15,377.61 L520.32,377.85 L527.76,378.08 L535.48,378.31 L543.48,378.54 L543.48,394.14 L535.48,393.60 L527.76,393.07 L520.32,392.53 L513.15,392.00 L506.22,391.47 L499.54,390.94 L493.10,390.42 L486.88,389.89 L480.88,389.37 L475.10,388.85 L469.52,388.33 L464.14,387.82 L458.94,387.30 L453.93,386.79 L449.10,386.28 L444.44,385.77 L439.94,385.27 L435.61,384.76 L431.42,384.26 L427.39,383.76 L423.49,383.26 L419.74,382.77 L416.11,382.27 L412.62,381.78 L409.24,381.29 L405.99,380.80 L402.85,380.31 L399.83,379.83 L396.91,379.35 L394.09,378.87 L391.37,378.39 L388.75,377.91 L386.22,377.44 L383.78,376.96 L381.43,376.49 L379.16,376.03 L376.97,375.56 L374.86,375.09 L372.82,374.63 L370.86,374.17 L368.96,373.71 L367.13,373.25 L365.37,372.80 L363.66,372.35 L362.02,371.89 L360.44,371.45 L358.91,371.00 L357.44,370.55 L356.01,370.11 L354.64,369.67 L353.32,369.23 L352.04,368.79 L350.81,368.36 L349.62,367.92 L348.48,367.49 L347.37,367.06 L346.31,366.63 L345.28,366.21 L344.29,365.78 L343.33,365.36 L342.40,364.94 L341.51,364.53 L340.65,364.11 L339.83,363.70 L339.03,363.28 L338.25,362.87 L337.51,362.47 L336.79,362.06 L336.10,361.66 L335.43,361.25 L334.79,360.85 L334.17,360.46 L333.57,360.06 L332.99,359.67 L332.43,359.27 L331.89,358.88 L331.37,358.50 L330.87,358.11 L330.39,357.72 L329.92,357.34 L329.47,356.96 L329.04,356.58 L328.62,356.21 L328.22,355.83 L327.83,355.46 L327.45,355.09 L327.09,354.72 L326.74,354.35 L326.40,353.99 L326.08,353.63 L325.76,353.27 L325.46,352.91 L325.17,352.55 L324.89,352.19 L324.62,351.84 L324.35,351.49 L324.10,351.14 L323.86,350.79 L323.62,350.45 L323.40,350.11 L323.18,349.77 L322.97,349.43 L322.76,349.09 L322.57,348.75 L322.38,348.42 L322.19,348.09 L322.02,347.76 L321.85,347.43 L321.68,347.11 L321.52,346.78 L321.37,346.46 L321.22,346.14 L321.08,345.82 L320.94,345.51 L320.81,345.19 L320.68,344.88 L320.56,344.57 L320.44,344.27 L320.33,343.96 L320.22,343.66 Z" fill="#fcf0e4" stroke="none" clip-path="url(#clipR2)"/>
<path d="M320.22,343.66 L320.33,343.96 L320.44,344.27 L320.56,344.57 L320.68,344.88 L320.81,345.19 L320.94,345.51 L321.08,345.82 L321.22,346.14 L321.37,346.46 L321.52,346.78 L321.68,347.11 L321.85,347.43 L322.02,347.76 L322.19,348.09 L322.38,348.42 L322.57,348.75 L322.76,349.09 L322.97,349.43 L323.18,349.77 L323.40,350.11 L323.62,350.45 L323.86,350.79 L324.10,351.14 L324.35,351.49 L324.62,351.84 L324.89,352.19 L325.17,352.55 L325.46,352.91 L325.76,353.27 L326.08,353.63 L326.40,353.99 L326.74,354.35 L327.09,354.72 L327.45,355.09 L327.83,355.46 L328.22,355.83 L328.62,356.21 L329.04,356.58 L329.47,356.96 L329.92,357.34 L330.39,357.72 L330.87,358.11 L331.37,358.50 L331.89,358.88 L332.43,359.27 L332.99,359.67 L333.57,360.06 L334.17,360.46 L334.79,360.85 L335.43,361.25 L336.10,361.66 L336.79,362.06 L337.51,362.47 L338.25,362.87 L339.03,363.28 L339.83,363.70 L340.65,364.11 L341.51,364.53 L342.40,364.94 L343.33,365.36 L344.29,365.78 L345.28,366.21 L346.31,366.63 L347.37,367.06 L348.48,367.49 L349.62,367.92 L350.81,368.36 L352.04,368.79 L353.32,369.23 L354.64,369.67 L356.01,370.11 L357.44,370.55 L358.91,371.00 L360.44,371.45 L362.02,371.89 L363.66,372.35 L365.37,372.80 L367.13,373.25 L368.96,373.71 L370.86,374.17 L372.82,374.63 L374.86,375.09 L376.97,375.56 L379.16,376.03 L381.43,376.49 L383.78,376.96 L386.22,377.44 L388.75,377.91 L391.37,378.39 L394.09,378.87 L396.91,379.35 L399.83,379.83 L402.85,380.31 L405.99,380.80 L409.24,381.29 L412.62,381.78 L416.11,382.27 L419.74,382.77 L423.49,383.26 L427.39,383.76 L431.42,384.26 L435.61,384.76 L439.94,385.27 L444.44,385.77 L449.10,386.28 L453.93,386.79 L458.94,387.30 L464.14,387.82 L469.52,388.33 L475.10,388.85 L480.88,389.37 L486.88,389.89 L493.10,390.42 L499.54,390.94 L506.22,391.47 L513.15,392.00 L520.32,392.53 L527.76,393.07 L535.48,393.60 L543.48,394.14 L543.48,403.37 L535.48,402.88 L527.76,402.39 L520.32,401.90 L513.15,401.41 L506.22,400.92 L499.54,400.44 L493.10,399.95 L486.88,399.47 L480.88,398.98 L475.10,398.50 L469.52,398.02 L464.14,397.54 L458.94,397.05 L453.93,396.58 L449.10,396.10 L444.44,395.62 L439.94,395.14 L435.61,394.67 L431.42,394.19 L427.39,393.72 L423.49,393.25 L419.74,392.77 L416.11,392.30 L412.62,391.83 L409.24,391.36 L405.99,390.89 L402.85,390.43 L399.83,389.96 L396.91,389.49 L394.09,389.03 L391.37,388.56 L388.75,388.10 L386.22,387.64 L383.78,387.18 L381.43,386.72 L379.16,386.26 L376.97,385.80 L374.86,385.34 L372.82,384.89 L370.86,384.43 L368.96,383.97 L367.13,383.52 L365.37,383.07 L363.66,382.62 L362.02,382.16 L360.44,381.71 L358.91,381.26 L357.44,380.82 L356.01,380.37 L354.64,379.92 L353.32,379.48 L352.04,379.03 L350.81,378.59 L349.62,378.14 L348.48,377.70 L347.37,377.26 L346.31,376.82 L345.28,376.38 L344.29,375.94 L343.33,375.50 L342.40,375.07 L341.51,374.63 L340.65,374.20 L339.83,373.76 L339.03,373.33 L338.25,372.90 L337.51,372.47 L336.79,372.04 L336.10,371.61 L335.43,371.18 L334.79,370.75 L334.17,370.32 L333.57,369.90 L332.99,369.47 L332.43,369.05 L331.89,368.63 L331.37,368.20 L330.87,367.78 L330.39,367.36 L329.92,366.94 L329.47,366.52 L329.04,366.11 L328.62,365.69 L328.22,365.27 L327.83,364.86 L327.45,364.44 L327.09,364.03 L326.74,363.62 L326.40,363.21 L326.08,362.80 L325.76,362.39 L325.46,361.98 L325.17,361.57 L324.89,361.17 L324.62,360.76 L324.35,360.35 L324.10,359.95 L323.86,359.55 L323.62,359.15 L323.40,358.74 L323.18,358.34 L322.97,357.94 L322.76,357.55 L322.57,357.15 L322.38,356.75 L322.19,356.35 L322.02,355.96 L321.85,355.57 L321.68,355.17 L321.52,354.78 L321.37,354.39 L321.22,354.00 L321.08,353.61 L320.94,353.22 L320.81,352.83 L320.68,352.45 L320.56,352.06 L320.44,351.68 L320.33,351.29 L320.22,350.91 Z" fill="#fbe3e6" stroke="none" clip-path="url(#clipR2)"/>
<line x1="332.28" y1="303.84" x2="332.28" y2="417.60" stroke="#000" stroke-opacity="0.09" stroke-width="0.6"/>
<line x1="347.37" y1="303.84" x2="347.37" y2="417.60" stroke="#000" stroke-opacity="0.09" stroke-width="0.6"/>
<line x1="362.45" y1="303.84" x2="362.45" y2="417.60" stroke="#000" stroke-opacity="0.09" stroke-width="0.6"/>
<line x1="377.54" y1="303.84" x2="377.54" y2="417.60" stroke="#000" stroke-opacity="0.09" stroke-width="0.6"/>
<line x1="392.62" y1="303.84" x2="392.62" y2="417.60" stroke="#000" stroke-opacity="0.09" stroke-width="0.6"/>
<line x1="407.71" y1="303.84" x2="407.71" y2="417.60" stroke="#000" stroke-opacity="0.09" stroke-width="0.6"/>
<line x1="422.79" y1="303.84" x2="422.79" y2="417.60" stroke="#000" stroke-opacity="0.09" stroke-width="0.6"/>
<line x1="437.88" y1="303.84" x2="437.88" y2="417.60" stroke="#000" stroke-opacity="0.09" stroke-width="0.6"/>
<line x1="452.96" y1="303.84" x2="452.96" y2="417.60" stroke="#000" stroke-opacity="0.09" stroke-width="0.6"/>
<line x1="468.05" y1="303.84" x2="468.05" y2="417.60" stroke="#000" stroke-opacity="0.09" stroke-width="0.6"/>
<line x1="483.13" y1="303.84" x2="483.13" y2="417.60" stroke="#000" stroke-opacity="0.09" stroke-width="0.6"/>
<line x1="498.22" y1="303.84" x2="498.22" y2="417.60" stroke="#000" stroke-opacity="0.09" stroke-width="0.6"/>
<line x1="513.30" y1="303.84" x2="513.30" y2="417.60" stroke="#000" stroke-opacity="0.09" stroke-width="0.6"/>
<line x1="528.39" y1="303.84" x2="528.39" y2="417.60" stroke="#000" stroke-opacity="0.09" stroke-width="0.6"/>
<line x1="317.2" y1="408.12" x2="543.48" y2="408.12" stroke="#000" stroke-opacity="0.09" stroke-width="0.6"/>
<line x1="317.2" y1="398.64" x2="543.48" y2="398.64" stroke="#000" stroke-opacity="0.09" stroke-width="0.6"/>
<line x1="317.2" y1="389.16" x2="543.48" y2="389.16" stroke="#000" stroke-opacity="0.09" stroke-width="0.6"/>
<line x1="317.2" y1="379.68" x2="543.48" y2="379.68" stroke="#000" stroke-opacity="0.09" stroke-width="0.6"/>
<line x1="317.2" y1="370.20" x2="543.48" y2="370.20" stroke="#000" stroke-opacity="0.09" stroke-width="0.6"/>
<line x1="317.2" y1="360.72" x2="543.48" y2="360.72" stroke="#000" stroke-opacity="0.09" stroke-width="0.6"/>
<line x1="317.2" y1="351.24" x2="543.48" y2="351.24" stroke="#000" stroke-opacity="0.09" stroke-width="0.6"/>
<line x1="317.2" y1="341.76" x2="543.48" y2="341.76" stroke="#000" stroke-opacity="0.09" stroke-width="0.6"/>
<line x1="317.2" y1="332.28" x2="543.48" y2="332.28" stroke="#000" stroke-opacity="0.09" stroke-width="0.6"/>
<line x1="317.2" y1="322.80" x2="543.48" y2="322.80" stroke="#000" stroke-opacity="0.09" stroke-width="0.6"/>
<line x1="317.2" y1="313.32" x2="543.48" y2="313.32" stroke="#000" stroke-opacity="0.09" stroke-width="0.6"/>
<path d="M320.22,308.58 L320.27,308.78 L320.40,309.27 L320.59,309.98 L320.85,310.84 L321.16,311.83 L321.53,312.90 L321.95,314.02 L322.42,315.18 L322.95,316.36 L323.52,317.54 L324.13,318.71 L324.80,319.88 L325.51,321.03 L326.26,322.16 L327.06,323.28 L327.91,324.38 L328.79,325.46 L329.72,326.53 L330.69,327.57 L331.71,328.60 L332.76,329.62 L333.86,330.62 L334.99,331.60 L336.17,332.58 L337.38,333.54 L338.64,334.49 L339.94,335.43 L341.27,336.36 L342.64,337.28 L344.05,338.19 L345.50,339.10 L346.99,340.00 L348.51,340.89 L350.08,341.78 L351.68,342.66 L353.31,343.54 L354.99,344.41 L356.70,345.29 L358.44,346.15 L360.22,347.02 L362.04,347.88 L363.90,348.74 L365.79,349.60 L367.71,350.46 L369.67,351.32 L371.67,352.18 L373.70,353.03 L375.76,353.89 L377.86,354.75 L380.00,355.61 L382.17,356.46 L384.37,357.32 L386.61,358.18 L388.88,359.05 L391.19,359.91 L393.53,360.77 L395.90,361.64 L398.31,362.51 L400.75,363.38 L403.22,364.25 L405.73,365.12 L408.27,366.00 L410.84,366.88 L413.45,367.76 L416.08,368.65 L418.75,369.54 L421.46,370.43 L424.19,371.32 L426.96,372.22 L429.76,373.12 L432.60,374.02 L435.46,374.93 L438.36,375.84 L441.29,376.76 L444.25,377.67 L447.24,378.60 L450.27,379.52 L453.32,380.45 L456.41,381.38 L459.53,382.32 L462.68,383.26 L465.86,384.21 L469.07,385.16 L472.32,386.11 L475.59,387.07 L478.90,388.03 L482.23,388.99 L485.60,389.97 L489.00,390.94 L492.43,391.92 L495.89,392.90 L499.38,393.89 L502.90,394.88 L506.45,395.88 L510.03,396.88 L513.64,397.89 L517.28,398.90 L520.96,399.91 L524.66,400.93 L528.39,401.96" fill="none" stroke="#c9b9b9" stroke-width="0.6"/>
<path d="M320.22,308.58 L320.26,308.76 L320.37,309.20 L320.54,309.83 L320.76,310.61 L321.03,311.51 L321.34,312.50 L321.70,313.54 L322.10,314.62 L322.55,315.73 L323.04,316.85 L323.57,317.98 L324.13,319.10 L324.74,320.21 L325.39,321.32 L326.07,322.40 L326.79,323.48 L327.55,324.54 L328.34,325.59 L329.17,326.62 L330.04,327.63 L330.94,328.63 L331.88,329.62 L332.85,330.60 L333.86,331.56 L334.90,332.51 L335.97,333.46 L337.08,334.39 L338.22,335.31 L339.39,336.22 L340.60,337.13 L341.84,338.03 L343.11,338.92 L344.41,339.81 L345.75,340.69 L347.12,341.56 L348.52,342.43 L349.95,343.30 L351.41,344.16 L352.90,345.02 L354.43,345.88 L355.98,346.73 L357.57,347.58 L359.18,348.43 L360.83,349.28 L362.50,350.13 L364.21,350.98 L365.95,351.82 L367.71,352.67 L369.51,353.51 L371.33,354.36 L373.19,355.20 L375.07,356.05 L376.99,356.90 L378.93,357.74 L380.90,358.59 L382.90,359.44 L384.93,360.29 L386.99,361.14 L389.08,362.00 L391.19,362.85 L393.33,363.71 L395.51,364.57 L397.71,365.43 L399.93,366.30 L402.19,367.16 L404.47,368.03 L406.79,368.91 L409.13,369.78 L411.49,370.66 L413.89,371.54 L416.31,372.42 L418.76,373.31 L421.24,374.20 L423.74,375.09 L426.27,375.98 L428.83,376.88 L431.42,377.78 L434.03,378.69 L436.67,379.60 L439.34,380.51 L442.03,381.43 L444.75,382.35 L447.50,383.27 L450.27,384.20 L453.07,385.13 L455.90,386.07 L458.75,387.01 L461.63,387.95 L464.54,388.90 L467.47,389.85 L470.43,390.80 L473.41,391.76 L476.42,392.73 L479.46,393.69 L482.52,394.66 L485.61,395.64 L488.72,396.62 L491.86,397.61 L495.03,398.59 L498.22,399.59" fill="none" stroke="#c9b9b9" stroke-width="0.6"/>
<path d="M320.22,308.58 L320.25,308.72 L320.34,309.05 L320.46,309.53 L320.63,310.14 L320.83,310.84 L321.07,311.63 L321.34,312.48 L321.65,313.37 L321.99,314.30 L322.36,315.25 L322.76,316.21 L323.19,317.18 L323.65,318.16 L324.14,319.13 L324.66,320.10 L325.21,321.07 L325.78,322.03 L326.39,322.99 L327.02,323.93 L327.68,324.87 L328.36,325.80 L329.07,326.72 L329.81,327.63 L330.57,328.54 L331.36,329.44 L332.18,330.33 L333.02,331.22 L333.89,332.09 L334.78,332.97 L335.69,333.83 L336.63,334.70 L337.60,335.55 L338.59,336.41 L339.60,337.26 L340.64,338.11 L341.71,338.95 L342.79,339.79 L343.90,340.63 L345.04,341.47 L346.19,342.30 L347.37,343.14 L348.58,343.97 L349.80,344.80 L351.05,345.63 L352.33,346.46 L353.62,347.30 L354.94,348.13 L356.28,348.96 L357.65,349.79 L359.03,350.62 L360.44,351.46 L361.87,352.29 L363.32,353.13 L364.80,353.97 L366.30,354.81 L367.82,355.65 L369.36,356.49 L370.92,357.34 L372.50,358.18 L374.11,359.03 L375.74,359.89 L377.39,360.74 L379.06,361.60 L380.75,362.46 L382.46,363.32 L384.20,364.19 L385.95,365.05 L387.73,365.93 L389.52,366.80 L391.34,367.68 L393.18,368.56 L395.04,369.44 L396.92,370.33 L398.83,371.22 L400.75,372.12 L402.69,373.02 L404.65,373.92 L406.64,374.83 L408.64,375.74 L410.67,376.65 L412.71,377.57 L414.78,378.49 L416.87,379.41 L418.97,380.34 L421.10,381.28 L423.24,382.22 L425.41,383.16 L427.60,384.10 L429.80,385.05 L432.03,386.01 L434.28,386.97 L436.54,387.93 L438.83,388.90 L441.13,389.87 L443.46,390.85 L445.80,391.83 L448.17,392.81 L450.55,393.80 L452.96,394.80 L455.38,395.80" fill="none" stroke="#2a2a2a" stroke-width="1.05" />
<circle cx="320.22" cy="308.58" r="1.3" fill="#111"/>
<path d="M320.22,322.80 L320.23,322.86 L320.27,322.99 L320.34,323.20 L320.42,323.46 L320.52,323.77 L320.63,324.13 L320.77,324.53 L320.91,324.97 L321.08,325.43 L321.26,325.92 L321.45,326.43 L321.66,326.95 L321.89,327.50 L322.13,328.06 L322.38,328.62 L322.65,329.20 L322.93,329.79 L323.22,330.38 L323.53,330.97 L323.85,331.58 L324.18,332.18 L324.53,332.79 L324.89,333.40 L325.26,334.01 L325.64,334.62 L326.04,335.24 L326.45,335.85 L326.87,336.47 L327.30,337.09 L327.75,337.71 L328.21,338.33 L328.68,338.95 L329.16,339.57 L329.65,340.20 L330.16,340.82 L330.67,341.45 L331.20,342.07 L331.74,342.70 L332.29,343.33 L332.86,343.96 L333.43,344.59 L334.02,345.22 L334.61,345.85 L335.22,346.49 L335.84,347.13 L336.47,347.77 L337.11,348.41 L337.77,349.05 L338.43,349.70 L339.10,350.34 L339.79,350.99 L340.49,351.64 L341.19,352.30 L341.91,352.95 L342.64,353.61 L343.38,354.27 L344.13,354.94 L344.89,355.60 L345.66,356.27 L346.44,356.94 L347.23,357.62 L348.04,358.30 L348.85,358.98 L349.67,359.66 L350.51,360.35 L351.35,361.04 L352.20,361.73 L353.07,362.42 L353.94,363.12 L354.83,363.83 L355.72,364.53 L356.63,365.24 L357.54,365.95 L358.47,366.67 L359.40,367.39 L360.35,368.11 L361.31,368.84 L362.27,369.56 L363.25,370.30 L364.23,371.03 L365.23,371.77 L366.23,372.52 L367.25,373.27 L368.27,374.02 L369.31,374.77 L370.35,375.53 L371.40,376.29 L372.47,377.06 L373.54,377.83 L374.63,378.60 L375.72,379.38 L376.82,380.16 L377.93,380.95 L379.06,381.74 L380.19,382.53 L381.33,383.33 L382.48,384.13 L383.64,384.93 L384.81,385.74 L385.99,386.55" fill="none" stroke="#2a2a2a" stroke-width="1.05" stroke-dasharray="4,1.6,1,1.6"/>
<circle cx="320.22" cy="322.80" r="1.3" fill="#111"/>
<path d="M320.22,331.81 L320.23,331.84 L320.25,331.94 L320.28,332.08 L320.33,332.26 L320.38,332.47 L320.45,332.73 L320.52,333.01 L320.60,333.32 L320.70,333.65 L320.80,334.01 L320.90,334.39 L321.02,334.79 L321.14,335.20 L321.28,335.63 L321.42,336.07 L321.57,336.52 L321.72,336.98 L321.88,337.45 L322.05,337.93 L322.23,338.41 L322.42,338.90 L322.61,339.40 L322.81,339.89 L323.01,340.40 L323.23,340.90 L323.45,341.41 L323.67,341.91 L323.91,342.42 L324.15,342.93 L324.40,343.44 L324.65,343.95 L324.91,344.47 L325.18,344.98 L325.45,345.49 L325.73,346.00 L326.02,346.51 L326.31,347.02 L326.61,347.54 L326.92,348.05 L327.23,348.56 L327.55,349.06 L327.88,349.57 L328.21,350.08 L328.55,350.59 L328.89,351.10 L329.24,351.60 L329.60,352.11 L329.96,352.61 L330.33,353.12 L330.70,353.62 L331.08,354.13 L331.47,354.63 L331.86,355.14 L332.26,355.64 L332.66,356.14 L333.07,356.65 L333.49,357.15 L333.91,357.65 L334.34,358.16 L334.77,358.66 L335.21,359.16 L335.66,359.67 L336.11,360.17 L336.57,360.67 L337.03,361.18 L337.50,361.68 L337.97,362.18 L338.45,362.69 L338.94,363.19 L339.43,363.70 L339.92,364.20 L340.43,364.71 L340.93,365.22 L341.45,365.72 L341.97,366.23 L342.49,366.74 L343.02,367.25 L343.56,367.76 L344.10,368.27 L344.65,368.78 L345.20,369.29 L345.76,369.81 L346.32,370.32 L346.89,370.83 L347.46,371.35 L348.04,371.87 L348.63,372.38 L349.22,372.90 L349.82,373.42 L350.42,373.94 L351.02,374.46 L351.64,374.98 L352.25,375.51 L352.88,376.03 L353.50,376.56 L354.14,377.09 L354.78,377.61 L355.42,378.14 L356.07,378.67 L356.72,379.21" fill="none" stroke="#2a2a2a" stroke-width="1.05" stroke-dasharray="3.2,2"/>
<circle cx="320.22" cy="331.81" r="1.3" fill="#111"/>
<path d="M320.22,341.05 L320.22,341.06 L320.22,341.08 L320.23,341.12 L320.24,341.17 L320.25,341.22 L320.27,341.29 L320.29,341.37 L320.30,341.45 L320.33,341.54 L320.35,341.65 L320.37,341.76 L320.40,341.87 L320.43,342.00 L320.46,342.13 L320.49,342.27 L320.52,342.41 L320.56,342.56 L320.60,342.72 L320.63,342.88 L320.67,343.05 L320.72,343.22 L320.76,343.40 L320.81,343.59 L320.85,343.77 L320.90,343.97 L320.95,344.16 L321.00,344.36 L321.06,344.57 L321.11,344.78 L321.17,344.99 L321.22,345.21 L321.28,345.43 L321.34,345.65 L321.41,345.88 L321.47,346.11 L321.54,346.34 L321.60,346.57 L321.67,346.81 L321.74,347.05 L321.81,347.29 L321.88,347.53 L321.96,347.78 L322.03,348.03 L322.11,348.28 L322.19,348.53 L322.27,348.79 L322.35,349.04 L322.43,349.30 L322.51,349.56 L322.60,349.82 L322.69,350.08 L322.77,350.35 L322.86,350.61 L322.95,350.88 L323.05,351.14 L323.14,351.41 L323.23,351.68 L323.33,351.95 L323.43,352.23 L323.53,352.50 L323.63,352.77 L323.73,353.05 L323.83,353.32 L323.93,353.60 L324.04,353.88 L324.14,354.16 L324.25,354.44 L324.36,354.72 L324.47,355.00 L324.58,355.28 L324.70,355.56 L324.81,355.85 L324.93,356.13 L325.04,356.42 L325.16,356.70 L325.28,356.99 L325.40,357.28 L325.52,357.56 L325.64,357.85 L325.77,358.14 L325.89,358.43 L326.02,358.72 L326.15,359.01 L326.28,359.30 L326.41,359.59 L326.54,359.89 L326.67,360.18 L326.81,360.47 L326.94,360.77 L327.08,361.06 L327.22,361.36 L327.36,361.65 L327.50,361.95 L327.64,362.25 L327.78,362.54 L327.93,362.84 L328.07,363.14 L328.22,363.44 L328.37,363.74 L328.51,364.04" fill="none" stroke="#2a2a2a" stroke-width="1.05" stroke-dasharray="2,1.4,0.8,1.4"/>
<circle cx="320.22" cy="341.05" r="1.3" fill="#111"/>
<rect x="317.2" y="303.84" width="226.28" height="113.76" fill="none" stroke="#6e6e6e" stroke-width="0.8"/>
<line x1="317.20" y1="417.60" x2="317.20" y2="415.20" stroke="#6e6e6e" stroke-width="0.8"/>
<line x1="317.20" y1="303.84" x2="317.20" y2="306.24" stroke="#6e6e6e" stroke-width="0.8"/>
<text x="317.20" y="429.60" font-size="9.2" text-anchor="middle" fill="#1e1e1e" stroke="#1e1e1e" stroke-width="0.2" >0</text>
<line x1="332.28" y1="417.60" x2="332.28" y2="415.20" stroke="#6e6e6e" stroke-width="0.8"/>
<line x1="332.28" y1="303.84" x2="332.28" y2="306.24" stroke="#6e6e6e" stroke-width="0.8"/>
<text x="332.28" y="429.60" font-size="9.2" text-anchor="middle" fill="#1e1e1e" stroke="#1e1e1e" stroke-width="0.2" >5</text>
<line x1="347.37" y1="417.60" x2="347.37" y2="415.20" stroke="#6e6e6e" stroke-width="0.8"/>
<line x1="347.37" y1="303.84" x2="347.37" y2="306.24" stroke="#6e6e6e" stroke-width="0.8"/>
<text x="347.37" y="429.60" font-size="9.2" text-anchor="middle" fill="#1e1e1e" stroke="#1e1e1e" stroke-width="0.2" >10</text>
<line x1="362.45" y1="417.60" x2="362.45" y2="415.20" stroke="#6e6e6e" stroke-width="0.8"/>
<line x1="362.45" y1="303.84" x2="362.45" y2="306.24" stroke="#6e6e6e" stroke-width="0.8"/>
<text x="362.45" y="429.60" font-size="9.2" text-anchor="middle" fill="#1e1e1e" stroke="#1e1e1e" stroke-width="0.2" >15</text>
<line x1="377.54" y1="417.60" x2="377.54" y2="415.20" stroke="#6e6e6e" stroke-width="0.8"/>
<line x1="377.54" y1="303.84" x2="377.54" y2="306.24" stroke="#6e6e6e" stroke-width="0.8"/>
<text x="377.54" y="429.60" font-size="9.2" text-anchor="middle" fill="#1e1e1e" stroke="#1e1e1e" stroke-width="0.2" >20</text>
<line x1="392.62" y1="417.60" x2="392.62" y2="415.20" stroke="#6e6e6e" stroke-width="0.8"/>
<line x1="392.62" y1="303.84" x2="392.62" y2="306.24" stroke="#6e6e6e" stroke-width="0.8"/>
<text x="392.62" y="429.60" font-size="9.2" text-anchor="middle" fill="#1e1e1e" stroke="#1e1e1e" stroke-width="0.2" >25</text>
<line x1="407.71" y1="417.60" x2="407.71" y2="415.20" stroke="#6e6e6e" stroke-width="0.8"/>
<line x1="407.71" y1="303.84" x2="407.71" y2="306.24" stroke="#6e6e6e" stroke-width="0.8"/>
<text x="407.71" y="429.60" font-size="9.2" text-anchor="middle" fill="#1e1e1e" stroke="#1e1e1e" stroke-width="0.2" >30</text>
<line x1="422.79" y1="417.60" x2="422.79" y2="415.20" stroke="#6e6e6e" stroke-width="0.8"/>
<line x1="422.79" y1="303.84" x2="422.79" y2="306.24" stroke="#6e6e6e" stroke-width="0.8"/>
<text x="422.79" y="429.60" font-size="9.2" text-anchor="middle" fill="#1e1e1e" stroke="#1e1e1e" stroke-width="0.2" >35</text>
<line x1="437.88" y1="417.60" x2="437.88" y2="415.20" stroke="#6e6e6e" stroke-width="0.8"/>
<line x1="437.88" y1="303.84" x2="437.88" y2="306.24" stroke="#6e6e6e" stroke-width="0.8"/>
<text x="437.88" y="429.60" font-size="9.2" text-anchor="middle" fill="#1e1e1e" stroke="#1e1e1e" stroke-width="0.2" >40</text>
<line x1="452.96" y1="417.60" x2="452.96" y2="415.20" stroke="#6e6e6e" stroke-width="0.8"/>
<line x1="452.96" y1="303.84" x2="452.96" y2="306.24" stroke="#6e6e6e" stroke-width="0.8"/>
<text x="452.96" y="429.60" font-size="9.2" text-anchor="middle" fill="#1e1e1e" stroke="#1e1e1e" stroke-width="0.2" >45</text>
<line x1="468.05" y1="417.60" x2="468.05" y2="415.20" stroke="#6e6e6e" stroke-width="0.8"/>
<line x1="468.05" y1="303.84" x2="468.05" y2="306.24" stroke="#6e6e6e" stroke-width="0.8"/>
<text x="468.05" y="429.60" font-size="9.2" text-anchor="middle" fill="#1e1e1e" stroke="#1e1e1e" stroke-width="0.2" >50</text>
<line x1="483.13" y1="417.60" x2="483.13" y2="415.20" stroke="#6e6e6e" stroke-width="0.8"/>
<line x1="483.13" y1="303.84" x2="483.13" y2="306.24" stroke="#6e6e6e" stroke-width="0.8"/>
<text x="483.13" y="429.60" font-size="9.2" text-anchor="middle" fill="#1e1e1e" stroke="#1e1e1e" stroke-width="0.2" >55</text>
<line x1="498.22" y1="417.60" x2="498.22" y2="415.20" stroke="#6e6e6e" stroke-width="0.8"/>
<line x1="498.22" y1="303.84" x2="498.22" y2="306.24" stroke="#6e6e6e" stroke-width="0.8"/>
<text x="498.22" y="429.60" font-size="9.2" text-anchor="middle" fill="#1e1e1e" stroke="#1e1e1e" stroke-width="0.2" >60</text>
<line x1="513.30" y1="417.60" x2="513.30" y2="415.20" stroke="#6e6e6e" stroke-width="0.8"/>
<line x1="513.30" y1="303.84" x2="513.30" y2="306.24" stroke="#6e6e6e" stroke-width="0.8"/>
<text x="513.30" y="429.60" font-size="9.2" text-anchor="middle" fill="#1e1e1e" stroke="#1e1e1e" stroke-width="0.2" >65</text>
<line x1="528.39" y1="417.60" x2="528.39" y2="415.20" stroke="#6e6e6e" stroke-width="0.8"/>
<line x1="528.39" y1="303.84" x2="528.39" y2="306.24" stroke="#6e6e6e" stroke-width="0.8"/>
<text x="528.39" y="429.60" font-size="9.2" text-anchor="middle" fill="#1e1e1e" stroke="#1e1e1e" stroke-width="0.2" >70</text>
<line x1="543.48" y1="417.60" x2="543.48" y2="415.20" stroke="#6e6e6e" stroke-width="0.8"/>
<line x1="543.48" y1="303.84" x2="543.48" y2="306.24" stroke="#6e6e6e" stroke-width="0.8"/>
<text x="543.48" y="429.60" font-size="9.2" text-anchor="middle" fill="#1e1e1e" stroke="#1e1e1e" stroke-width="0.2" >75</text>
<line x1="317.2" y1="417.60" x2="319.59999999999997" y2="417.60" stroke="#6e6e6e" stroke-width="0.8"/>
<line x1="543.48" y1="417.60" x2="541.08" y2="417.60" stroke="#6e6e6e" stroke-width="0.8"/>
<text x="314.00" y="419.80" font-size="9.4" text-anchor="end" fill="#1e1e1e" stroke="#1e1e1e" stroke-width="0.2" >2.7</text>
<line x1="317.2" y1="408.12" x2="319.59999999999997" y2="408.12" stroke="#6e6e6e" stroke-width="0.8"/>
<line x1="543.48" y1="408.12" x2="541.08" y2="408.12" stroke="#6e6e6e" stroke-width="0.8"/>
<text x="314.00" y="410.32" font-size="9.4" text-anchor="end" fill="#1e1e1e" stroke="#1e1e1e" stroke-width="0.2" >2.9</text>
<line x1="317.2" y1="398.64" x2="319.59999999999997" y2="398.64" stroke="#6e6e6e" stroke-width="0.8"/>
<line x1="543.48" y1="398.64" x2="541.08" y2="398.64" stroke="#6e6e6e" stroke-width="0.8"/>
<text x="314.00" y="400.84" font-size="9.4" text-anchor="end" fill="#1e1e1e" stroke="#1e1e1e" stroke-width="0.2" >3.1</text>
<line x1="317.2" y1="389.16" x2="319.59999999999997" y2="389.16" stroke="#6e6e6e" stroke-width="0.8"/>
<line x1="543.48" y1="389.16" x2="541.08" y2="389.16" stroke="#6e6e6e" stroke-width="0.8"/>
<text x="314.00" y="391.36" font-size="9.4" text-anchor="end" fill="#1e1e1e" stroke="#1e1e1e" stroke-width="0.2" >3.3</text>
<line x1="317.2" y1="379.68" x2="319.59999999999997" y2="379.68" stroke="#6e6e6e" stroke-width="0.8"/>
<line x1="543.48" y1="379.68" x2="541.08" y2="379.68" stroke="#6e6e6e" stroke-width="0.8"/>
<text x="314.00" y="381.88" font-size="9.4" text-anchor="end" fill="#1e1e1e" stroke="#1e1e1e" stroke-width="0.2" >3.5</text>
<line x1="317.2" y1="370.20" x2="319.59999999999997" y2="370.20" stroke="#6e6e6e" stroke-width="0.8"/>
<line x1="543.48" y1="370.20" x2="541.08" y2="370.20" stroke="#6e6e6e" stroke-width="0.8"/>
<text x="314.00" y="372.40" font-size="9.4" text-anchor="end" fill="#1e1e1e" stroke="#1e1e1e" stroke-width="0.2" >3.7</text>
<line x1="317.2" y1="360.72" x2="319.59999999999997" y2="360.72" stroke="#6e6e6e" stroke-width="0.8"/>
<line x1="543.48" y1="360.72" x2="541.08" y2="360.72" stroke="#6e6e6e" stroke-width="0.8"/>
<text x="314.00" y="362.92" font-size="9.4" text-anchor="end" fill="#1e1e1e" stroke="#1e1e1e" stroke-width="0.2" >3.9</text>
<line x1="317.2" y1="351.24" x2="319.59999999999997" y2="351.24" stroke="#6e6e6e" stroke-width="0.8"/>
<line x1="543.48" y1="351.24" x2="541.08" y2="351.24" stroke="#6e6e6e" stroke-width="0.8"/>
<text x="314.00" y="353.44" font-size="9.4" text-anchor="end" fill="#1e1e1e" stroke="#1e1e1e" stroke-width="0.2" >4.1</text>
<line x1="317.2" y1="341.76" x2="319.59999999999997" y2="341.76" stroke="#6e6e6e" stroke-width="0.8"/>
<line x1="543.48" y1="341.76" x2="541.08" y2="341.76" stroke="#6e6e6e" stroke-width="0.8"/>
<text x="314.00" y="343.96" font-size="9.4" text-anchor="end" fill="#1e1e1e" stroke="#1e1e1e" stroke-width="0.2" >4.3</text>
<line x1="317.2" y1="332.28" x2="319.59999999999997" y2="332.28" stroke="#6e6e6e" stroke-width="0.8"/>
<line x1="543.48" y1="332.28" x2="541.08" y2="332.28" stroke="#6e6e6e" stroke-width="0.8"/>
<text x="314.00" y="334.48" font-size="9.4" text-anchor="end" fill="#1e1e1e" stroke="#1e1e1e" stroke-width="0.2" >4.5</text>
<line x1="317.2" y1="322.80" x2="319.59999999999997" y2="322.80" stroke="#6e6e6e" stroke-width="0.8"/>
<line x1="543.48" y1="322.80" x2="541.08" y2="322.80" stroke="#6e6e6e" stroke-width="0.8"/>
<text x="314.00" y="325.00" font-size="9.4" text-anchor="end" fill="#1e1e1e" stroke="#1e1e1e" stroke-width="0.2" >4.7</text>
<line x1="317.2" y1="313.32" x2="319.59999999999997" y2="313.32" stroke="#6e6e6e" stroke-width="0.8"/>
<line x1="543.48" y1="313.32" x2="541.08" y2="313.32" stroke="#6e6e6e" stroke-width="0.8"/>
<text x="314.00" y="315.52" font-size="9.4" text-anchor="end" fill="#1e1e1e" stroke="#1e1e1e" stroke-width="0.2" >4.9</text>
<line x1="317.2" y1="303.84" x2="319.59999999999997" y2="303.84" stroke="#6e6e6e" stroke-width="0.8"/>
<line x1="543.48" y1="303.84" x2="541.08" y2="303.84" stroke="#6e6e6e" stroke-width="0.8"/>
<text x="314.00" y="306.04" font-size="9.4" text-anchor="end" fill="#1e1e1e" stroke="#1e1e1e" stroke-width="0.2" >5.1</text>
<text x="428.50" y="444.10" font-size="10.8" text-anchor="middle" fill="#1a1a1a" stroke="#1a1a1a" stroke-width="0.25" >Technical Lifetime [Years]</text>
<text transform="translate(295.0,360.12) rotate(-90)" font-size="10.6" text-anchor="middle" fill="#333"><tspan font-family='"Liberation Sans", sans-serif'>Reliability Index </tspan><tspan font-style="italic" dx="4.6">β</tspan></text>
<line x1="528.99" y1="96.20" x2="528.99" y2="417.60" stroke="#2f86da" stroke-width="1.1" stroke-dasharray="2.2,1.8"/>
<line x1="498.22" y1="227.60" x2="498.22" y2="417.60" stroke="#2f86da" stroke-width="1.1" stroke-dasharray="2.2,1.8"/>
<line x1="455.38" y1="370.00" x2="455.38" y2="417.60" stroke="#2f86da" stroke-width="1.1" stroke-dasharray="2.2,1.8"/>
<path d="M331.34,217.48 L337.34,223.48 M331.34,223.48 L337.34,217.48" stroke="#cfcfcf" stroke-width="0.8" fill="none"/>
<circle cx="334.34" cy="230.68" r="5.5" fill="#d6d6d6"/>
<text x="334.34" y="233.58" font-size="8.3" font-weight="bold" text-anchor="middle" fill="#fff">4</text>
<path d="M371.22,232.65 L377.22,238.65 M371.22,238.65 L377.22,232.65" stroke="#cfcfcf" stroke-width="0.8" fill="none"/>
<circle cx="374.22" cy="245.85" r="5.5" fill="#d6d6d6"/>
<text x="374.22" y="248.75" font-size="8.3" font-weight="bold" text-anchor="middle" fill="#fff">3</text>
<path d="M415.57,239.95 L421.57,245.95 M415.57,245.95 L421.57,239.95" stroke="#cfcfcf" stroke-width="0.8" fill="none"/>
<circle cx="418.57" cy="253.15" r="5.5" fill="#d6d6d6"/>
<text x="418.57" y="256.05" font-size="8.3" font-weight="bold" text-anchor="middle" fill="#fff">2</text>
<path d="M525.39,250.66 L531.39,256.66 M525.39,256.66 L531.39,250.66" stroke="#cfcfcf" stroke-width="0.8" fill="none"/>
<circle cx="528.39" cy="261.66" r="5.5" fill="#b3cdec"/>
<text x="528.39" y="264.56" font-size="8.3" font-weight="bold" text-anchor="middle" fill="#fff">1</text>
<path d="M329.28,215.72 L335.28,221.72 M329.28,221.72 L335.28,215.72" stroke="#222" stroke-width="1.0" fill="none"/>
<circle cx="332.28" cy="228.92" r="5.25" fill="#0d0d0d"/>
<text x="332.28" y="231.82" font-size="8.3" font-weight="bold" text-anchor="middle" fill="#fff">4</text>
<path d="M363.68,230.28 L369.68,236.28 M363.68,236.28 L369.68,230.28" stroke="#222" stroke-width="1.0" fill="none"/>
<circle cx="366.68" cy="243.48" r="5.25" fill="#0d0d0d"/>
<text x="366.68" y="246.38" font-size="8.3" font-weight="bold" text-anchor="middle" fill="#fff">3</text>
<path d="M401.99,238.33 L407.99,244.33 M401.99,244.33 L407.99,238.33" stroke="#222" stroke-width="1.0" fill="none"/>
<circle cx="404.99" cy="251.53" r="5.25" fill="#0d0d0d"/>
<text x="404.99" y="254.43" font-size="8.3" font-weight="bold" text-anchor="middle" fill="#fff">2</text>
<path d="M495.22,248.29 L501.22,254.29 M495.22,254.29 L501.22,248.29" stroke="#222" stroke-width="1.0" fill="none"/>
<circle cx="498.22" cy="261.59" r="5.25" fill="#1570cf"/>
<text x="498.22" y="264.49" font-size="8.3" font-weight="bold" text-anchor="middle" fill="#fff">1</text>
<path d="M331.34,365.78 L337.34,371.78 M331.34,371.78 L337.34,365.78" stroke="#cfcfcf" stroke-width="0.8" fill="none"/>
<circle cx="334.34" cy="378.98" r="5.5" fill="#d6d6d6"/>
<text x="334.34" y="381.88" font-size="8.3" font-weight="bold" text-anchor="middle" fill="#fff">4</text>
<path d="M371.22,380.95 L377.22,386.95 M371.22,386.95 L377.22,380.95" stroke="#cfcfcf" stroke-width="0.8" fill="none"/>
<circle cx="374.22" cy="394.15" r="5.5" fill="#d6d6d6"/>
<text x="374.22" y="397.05" font-size="8.3" font-weight="bold" text-anchor="middle" fill="#fff">3</text>
<path d="M415.57,388.25 L421.57,394.25 M415.57,394.25 L421.57,388.25" stroke="#cfcfcf" stroke-width="0.8" fill="none"/>
<circle cx="418.57" cy="401.45" r="5.5" fill="#d6d6d6"/>
<text x="418.57" y="404.35" font-size="8.3" font-weight="bold" text-anchor="middle" fill="#fff">2</text>
<path d="M525.39,398.96 L531.39,404.96 M525.39,404.96 L531.39,398.96" stroke="#cfcfcf" stroke-width="0.8" fill="none"/>
<circle cx="528.39" cy="409.96" r="5.5" fill="#b3cdec"/>
<text x="528.39" y="412.86" font-size="8.3" font-weight="bold" text-anchor="middle" fill="#fff">1</text>
<path d="M329.28,364.02 L335.28,370.02 M329.28,370.02 L335.28,364.02" stroke="#cfcfcf" stroke-width="0.8" fill="none"/>
<circle cx="332.28" cy="377.22" r="5.5" fill="#d6d6d6"/>
<text x="332.28" y="380.12" font-size="8.3" font-weight="bold" text-anchor="middle" fill="#fff">4</text>
<path d="M363.68,378.58 L369.68,384.58 M363.68,384.58 L369.68,378.58" stroke="#cfcfcf" stroke-width="0.8" fill="none"/>
<circle cx="366.68" cy="391.78" r="5.5" fill="#d6d6d6"/>
<text x="366.68" y="394.68" font-size="8.3" font-weight="bold" text-anchor="middle" fill="#fff">3</text>
<path d="M401.99,386.63 L407.99,392.63 M401.99,392.63 L407.99,386.63" stroke="#cfcfcf" stroke-width="0.8" fill="none"/>
<circle cx="404.99" cy="399.83" r="5.5" fill="#d6d6d6"/>
<text x="404.99" y="402.73" font-size="8.3" font-weight="bold" text-anchor="middle" fill="#fff">2</text>
<path d="M495.22,396.59 L501.22,402.59 M495.22,402.59 L501.22,396.59" stroke="#cfcfcf" stroke-width="0.8" fill="none"/>
<circle cx="498.22" cy="409.89" r="5.5" fill="#b3cdec"/>
<text x="498.22" y="412.79" font-size="8.3" font-weight="bold" text-anchor="middle" fill="#fff">1</text>
<path d="M325.51,361.04 L331.51,367.04 M325.51,367.04 L331.51,361.04" stroke="#222" stroke-width="1.0" fill="none"/>
<circle cx="328.51" cy="374.24" r="5.25" fill="#0d0d0d"/>
<text x="328.51" y="377.14" font-size="8.3" font-weight="bold" text-anchor="middle" fill="#fff">4</text>
<path d="M353.72,376.21 L359.72,382.21 M353.72,382.21 L359.72,376.21" stroke="#222" stroke-width="1.0" fill="none"/>
<circle cx="356.72" cy="389.41" r="5.25" fill="#0d0d0d"/>
<text x="356.72" y="392.31" font-size="8.3" font-weight="bold" text-anchor="middle" fill="#fff">3</text>
<path d="M382.99,383.55 L388.99,389.55 M382.99,389.55 L388.99,383.55" stroke="#222" stroke-width="1.0" fill="none"/>
<circle cx="385.99" cy="396.75" r="5.25" fill="#0d0d0d"/>
<text x="385.99" y="399.65" font-size="8.3" font-weight="bold" text-anchor="middle" fill="#fff">2</text>
<path d="M452.38,392.80 L458.38,398.80 M452.38,398.80 L458.38,392.80" stroke="#222" stroke-width="1.0" fill="none"/>
<circle cx="455.38" cy="406.10" r="5.25" fill="#1570cf"/>
<text x="455.38" y="409.00" font-size="8.3" font-weight="bold" text-anchor="middle" fill="#fff">1</text>
<path d="M331.34,68.78 L337.34,74.78 M331.34,74.78 L337.34,68.78" stroke="#222" stroke-width="1.0" fill="none"/>
<circle cx="334.34" cy="81.98" r="5.25" fill="#0d0d0d"/>
<text x="334.34" y="84.88" font-size="8.3" font-weight="bold" text-anchor="middle" fill="#fff">4</text>
<path d="M371.22,83.95 L377.22,89.95 M371.22,89.95 L377.22,83.95" stroke="#222" stroke-width="1.0" fill="none"/>
<circle cx="374.22" cy="97.15" r="5.25" fill="#0d0d0d"/>
<text x="374.22" y="100.05" font-size="8.3" font-weight="bold" text-anchor="middle" fill="#fff">3</text>
<path d="M415.57,91.25 L421.57,97.25 M415.57,97.25 L421.57,91.25" stroke="#222" stroke-width="1.0" fill="none"/>
<circle cx="418.57" cy="104.45" r="5.25" fill="#0d0d0d"/>
<text x="418.57" y="107.35" font-size="8.3" font-weight="bold" text-anchor="middle" fill="#fff">2</text>
<path d="M525.39,101.96 L531.39,107.96 M525.39,107.96 L531.39,101.96" stroke="#222" stroke-width="1.0" fill="none"/>
<circle cx="528.39" cy="112.96" r="5.25" fill="#1570cf"/>
<text x="528.39" y="115.86" font-size="8.3" font-weight="bold" text-anchor="middle" fill="#fff">1</text>
<line x1="501.72" y1="232.10" x2="528.39" y2="232.10" stroke="#1f78d1" stroke-width="1.5"/>
<path d="M498.22,232.10 L502.72,229.10 L502.72,235.10 Z" fill="#1f78d1"/>
<text x="487.80" y="222.90" font-size="9.3" fill="#2a7fd4" stroke="#2a7fd4" stroke-width="0.15">≈ 10 years</text>
<line x1="458.88" y1="376.00" x2="498.22" y2="376.00" stroke="#1f78d1" stroke-width="1.5"/>
<path d="M455.38,376.00 L459.88,373.00 L459.88,379.00 Z" fill="#1f78d1"/>
<text x="457.00" y="366.00" font-size="9.3" fill="#2a7fd4" stroke="#2a7fd4" stroke-width="0.15">≈ 14 years</text></svg></body></html>
